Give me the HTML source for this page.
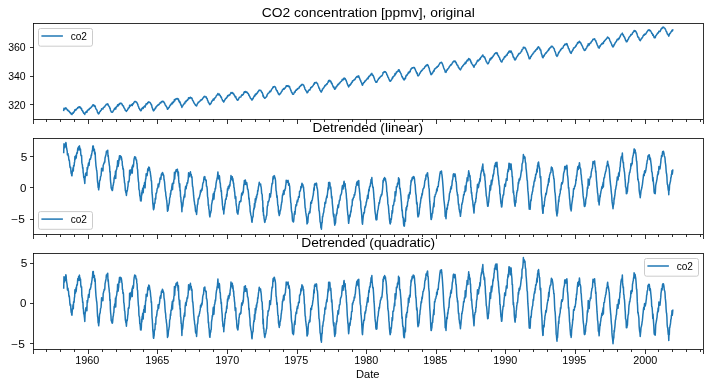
<!DOCTYPE html>
<html><head><meta charset="utf-8"><style>
html,body{margin:0;padding:0;background:#fff;}
svg{display:block;font-family:"Liberation Sans",sans-serif;will-change:transform;}
</style></head><body>
<svg width="713" height="387" viewBox="0 0 713 387">
<rect width="713" height="387" fill="#fff"/>
<defs><clipPath id="c0"><rect x="33.5" y="23.5" width="670.0" height="96.0"/></clipPath><clipPath id="c1"><rect x="33.5" y="138.5" width="670.0" height="96.0"/></clipPath><clipPath id="c2"><rect x="33.5" y="253.5" width="670.0" height="96.0"/></clipPath></defs><polyline clip-path="url(#c0)" fill="none" stroke="#1f77b4" stroke-width="1.5" stroke-linejoin="round" stroke-linecap="square" points="63.71,110.34 63.98,108.32 64.25,108.80 64.51,109.20 64.78,108.61 65.05,108.30 65.31,108.85 65.58,108.25 65.85,107.80 66.11,107.99 66.38,108.65 66.65,109.05 66.91,109.28 67.18,109.58 67.45,110.37 67.71,110.05 67.98,110.05 68.25,110.49 68.51,110.46 68.78,111.14 69.05,111.42 69.31,111.29 69.58,111.81 69.85,112.53 70.12,112.87 70.38,112.95 70.65,112.75 70.92,113.59 71.18,114.05 71.45,113.89 71.72,114.47 71.98,114.48 72.25,113.70 72.52,113.28 72.78,113.03 73.05,112.51 73.32,113.20 73.58,111.95 73.85,111.95 74.12,111.97 74.38,111.17 74.65,110.97 74.92,109.71 75.18,109.94 75.45,110.22 75.72,109.97 75.98,109.26 76.25,109.85 76.52,109.09 76.78,108.63 77.05,108.66 77.32,108.62 77.58,107.89 77.85,107.41 78.12,107.40 78.39,107.42 78.65,106.99 78.92,107.69 79.19,106.85 79.45,106.68 79.72,107.37 79.99,107.09 80.25,107.54 80.52,107.30 80.79,108.35 81.05,108.67 81.32,108.57 81.59,108.55 81.85,110.14 82.12,110.40 82.39,110.57 82.65,111.26 82.92,111.13 83.19,112.26 83.45,112.41 83.72,113.21 83.99,112.98 84.25,113.56 84.52,113.90 84.79,114.47 85.05,113.18 85.32,112.83 85.59,112.47 85.86,111.98 86.12,111.85 86.39,111.89 86.66,111.72 86.92,112.35 87.19,110.49 87.46,110.87 87.72,110.54 87.99,110.17 88.26,109.71 88.52,109.30 88.79,109.64 89.06,109.77 89.32,109.15 89.59,108.45 89.86,108.24 90.12,108.19 90.39,108.20 90.66,107.86 90.92,107.77 91.19,107.14 91.46,107.23 91.72,106.73 91.99,106.43 92.26,105.97 92.52,105.80 92.79,104.88 93.06,104.80 93.33,104.77 93.59,105.82 93.86,105.55 94.13,105.81 94.39,105.38 94.66,106.41 94.93,105.90 95.19,106.13 95.46,107.46 95.73,108.20 95.99,108.91 96.26,109.27 96.53,109.71 96.79,109.90 97.06,110.50 97.33,111.64 97.59,112.42 97.86,112.58 98.13,113.53 98.39,113.33 98.66,113.97 98.93,113.46 99.19,113.20 99.46,112.08 99.73,111.70 99.99,111.62 100.26,111.36 100.53,110.71 100.79,110.61 101.06,110.44 101.33,109.67 101.60,108.69 101.86,108.97 102.13,108.99 102.40,109.06 102.66,108.98 102.93,109.08 103.20,107.73 103.46,107.66 103.73,107.36 104.00,107.16 104.26,106.92 104.53,107.06 104.80,106.80 105.06,105.84 105.33,105.65 105.60,105.30 105.86,105.15 106.13,104.78 106.40,104.18 106.66,104.37 106.93,104.29 107.20,103.92 107.46,103.99 107.73,103.75 108.00,105.13 108.26,104.86 108.53,105.57 108.80,106.06 109.07,106.41 109.33,106.93 109.60,107.17 109.87,108.46 110.13,108.22 110.40,109.91 110.67,110.61 110.93,110.94 111.20,111.87 111.47,111.72 111.73,112.11 112.00,111.99 112.27,112.25 112.53,112.11 112.80,111.59 113.07,110.95 113.33,110.89 113.60,110.30 113.87,110.15 114.13,109.08 114.40,109.27 114.67,108.59 114.93,108.70 115.20,108.61 115.47,107.42 115.73,109.02 116.00,107.63 116.27,107.03 116.54,106.97 116.80,106.64 117.07,106.05 117.34,106.12 117.60,104.77 117.87,105.88 118.14,105.96 118.40,105.45 118.67,105.18 118.94,104.21 119.20,104.00 119.47,103.41 119.74,104.24 120.00,103.62 120.27,103.27 120.54,103.39 120.80,103.33 121.07,103.31 121.34,103.41 121.60,103.66 121.87,104.11 122.14,104.21 122.40,105.24 122.67,105.26 122.94,105.91 123.20,105.70 123.47,105.96 123.74,107.40 124.00,107.54 124.27,108.02 124.54,108.82 124.81,108.86 125.07,109.50 125.34,110.42 125.61,110.53 125.87,110.84 126.14,110.88 126.41,111.41 126.67,110.78 126.94,110.19 127.21,110.32 127.47,109.93 127.74,109.35 128.01,109.08 128.27,108.02 128.54,107.92 128.81,108.02 129.07,107.77 129.34,107.27 129.61,105.24 129.87,106.42 130.14,106.22 130.41,105.92 130.67,105.86 130.94,104.98 131.21,105.46 131.47,105.04 131.74,104.93 132.01,104.20 132.28,105.53 132.54,103.84 132.81,103.84 133.08,103.53 133.34,103.97 133.61,103.40 133.88,102.50 134.14,102.02 134.41,101.79 134.68,101.50 134.94,101.53 135.21,101.70 135.48,101.48 135.74,101.59 136.01,102.04 136.28,101.98 136.54,101.98 136.81,102.68 137.08,102.87 137.34,103.83 137.61,103.96 137.88,105.10 138.14,105.85 138.41,106.54 138.68,106.77 138.94,108.24 139.21,108.37 139.48,108.54 139.75,109.61 140.01,109.60 140.28,110.09 140.55,110.66 140.81,110.52 141.08,110.64 141.35,110.09 141.61,108.67 141.88,109.12 142.15,108.08 142.41,108.13 142.68,107.56 142.95,107.43 143.21,108.45 143.48,107.33 143.75,106.72 144.01,106.76 144.28,106.65 144.55,105.97 144.81,105.95 145.08,107.10 145.35,105.74 145.61,104.97 145.88,104.99 146.15,103.75 146.41,103.88 146.68,103.97 146.95,104.09 147.21,103.93 147.48,103.23 147.75,102.49 148.02,102.34 148.28,102.76 148.55,102.12 148.82,101.87 149.08,101.99 149.35,101.93 149.62,102.25 149.88,102.56 150.15,102.71 150.42,103.06 150.68,103.64 150.95,103.86 151.22,104.70 151.48,104.56 151.75,105.73 152.02,107.28 152.28,107.69 152.55,108.47 152.82,109.53 153.08,109.88 153.35,110.70 153.62,110.86 153.88,110.54 154.15,110.27 154.42,109.24 154.68,109.30 154.95,109.20 155.22,108.06 155.49,108.27 155.75,108.09 156.02,106.83 156.29,106.80 156.55,106.64 156.82,106.33 157.09,105.78 157.35,105.47 157.62,105.47 157.89,105.19 158.15,104.40 158.42,104.85 158.69,104.99 158.95,104.34 159.22,104.33 159.49,103.94 159.75,103.57 160.02,102.86 160.29,102.95 160.55,102.53 160.82,102.99 161.09,102.45 161.35,101.81 161.62,101.61 161.89,101.66 162.15,101.79 162.42,101.20 162.69,101.24 162.96,101.74 163.22,101.43 163.49,101.67 163.76,101.74 164.02,102.57 164.29,102.77 164.56,103.13 164.82,103.84 165.09,104.55 165.36,105.05 165.62,105.23 165.89,106.00 166.16,106.18 166.42,106.70 166.69,106.94 166.96,107.50 167.22,108.27 167.49,109.29 167.76,108.95 168.02,109.01 168.29,108.41 168.56,107.87 168.82,107.72 169.09,107.33 169.36,107.11 169.62,106.04 169.89,105.82 170.16,105.67 170.42,104.81 170.69,105.04 170.96,104.13 171.23,103.95 171.49,104.04 171.76,103.24 172.03,102.86 172.29,102.39 172.56,103.68 172.83,102.29 173.09,102.19 173.36,101.91 173.63,102.14 173.89,101.31 174.16,101.16 174.43,99.49 174.69,100.98 174.96,100.05 175.23,99.46 175.49,99.55 175.76,99.16 176.03,98.77 176.29,98.70 176.56,98.97 176.83,98.87 177.09,98.52 177.36,98.40 177.63,98.83 177.89,99.18 178.16,99.81 178.43,98.92 178.70,100.59 178.96,101.32 179.23,101.42 179.50,102.21 179.76,101.35 180.03,102.94 180.30,102.75 180.56,104.23 180.83,104.23 181.10,105.36 181.36,105.30 181.63,106.26 181.90,107.41 182.16,106.17 182.43,106.28 182.70,106.02 182.96,105.52 183.23,104.79 183.50,104.44 183.76,104.06 184.03,103.63 184.30,103.40 184.56,103.09 184.83,103.65 185.10,101.99 185.36,101.69 185.63,101.16 185.90,101.33 186.17,101.61 186.43,100.79 186.70,100.88 186.97,100.34 187.23,100.04 187.50,100.22 187.77,99.88 188.03,99.48 188.30,98.94 188.57,97.67 188.83,98.01 189.10,97.94 189.37,98.47 189.63,98.28 189.90,97.51 190.17,97.74 190.43,97.17 190.70,97.85 190.97,97.68 191.23,97.68 191.50,98.33 191.77,98.06 192.03,98.30 192.30,99.53 192.57,100.27 192.83,100.23 193.10,100.83 193.37,101.39 193.63,102.21 193.90,102.68 194.17,103.24 194.44,103.46 194.70,104.02 194.97,104.12 195.24,104.63 195.50,105.34 195.77,105.46 196.04,105.53 196.30,105.47 196.57,106.00 196.84,105.30 197.10,104.53 197.37,103.67 197.64,103.64 197.90,103.24 198.17,102.39 198.44,102.13 198.70,102.17 198.97,102.11 199.24,101.71 199.50,101.61 199.77,101.21 200.04,101.03 200.30,100.63 200.57,99.99 200.84,100.36 201.10,100.16 201.37,100.00 201.64,99.51 201.91,99.78 202.17,99.48 202.44,98.90 202.71,98.28 202.97,98.01 203.24,97.81 203.51,97.74 203.77,97.13 204.04,96.49 204.31,96.58 204.57,96.53 204.84,96.28 205.11,96.87 205.37,96.88 205.64,96.94 205.91,97.04 206.17,96.89 206.44,98.21 206.71,98.15 206.97,98.34 207.24,98.83 207.51,100.33 207.77,100.59 208.04,101.04 208.31,102.32 208.57,102.11 208.84,103.06 209.11,103.18 209.38,103.96 209.64,104.52 209.91,104.69 210.18,104.16 210.44,103.45 210.71,103.67 210.98,103.21 211.24,103.13 211.51,101.81 211.78,101.41 212.04,101.16 212.31,100.54 212.58,100.63 212.84,100.17 213.11,99.23 213.38,98.93 213.64,99.70 213.91,100.11 214.18,99.36 214.44,98.31 214.71,98.28 214.98,98.00 215.24,97.46 215.51,97.57 215.78,97.02 216.04,96.33 216.31,95.92 216.58,95.51 216.84,95.40 217.11,94.87 217.38,94.82 217.65,94.07 217.91,93.41 218.18,94.20 218.45,94.82 218.71,94.88 218.98,94.23 219.25,94.06 219.51,94.21 219.78,95.03 220.05,95.66 220.31,95.57 220.58,96.63 220.85,96.62 221.11,97.43 221.38,97.14 221.65,98.26 221.91,98.77 222.18,99.25 222.45,100.30 222.71,100.55 222.98,101.26 223.25,101.29 223.51,101.13 223.78,102.13 224.05,101.28 224.31,100.94 224.58,100.41 224.85,99.64 225.12,99.65 225.38,98.76 225.65,98.51 225.92,98.35 226.18,98.45 226.45,97.77 226.72,97.22 226.98,97.64 227.25,96.71 227.52,95.86 227.78,96.24 228.05,95.67 228.32,95.24 228.58,95.19 228.85,95.67 229.12,95.34 229.38,94.99 229.65,94.61 229.92,94.92 230.18,94.00 230.45,93.76 230.72,93.34 230.98,92.44 231.25,92.77 231.52,92.96 231.78,93.13 232.05,92.84 232.32,92.52 232.59,93.36 232.85,92.86 233.12,93.29 233.39,93.88 233.65,93.72 233.92,94.69 234.19,94.74 234.45,95.43 234.72,95.68 234.99,96.59 235.25,97.05 235.52,96.90 235.79,96.52 236.05,97.91 236.32,98.47 236.59,98.62 236.85,99.52 237.12,99.97 237.39,99.89 237.65,100.14 237.92,100.19 238.19,99.61 238.45,99.20 238.72,98.84 238.99,97.87 239.25,97.81 239.52,97.16 239.79,97.20 240.05,97.12 240.32,97.06 240.59,96.71 240.86,96.92 241.12,96.31 241.39,95.59 241.66,94.98 241.92,94.87 242.19,95.28 242.46,94.83 242.72,94.93 242.99,94.31 243.26,94.56 243.52,93.71 243.79,92.75 244.06,92.75 244.32,91.70 244.59,92.36 244.86,92.47 245.12,91.84 245.39,91.43 245.66,92.00 245.92,91.91 246.19,92.36 246.46,92.18 246.72,91.83 246.99,92.19 247.26,92.63 247.52,93.19 247.79,93.14 248.06,93.32 248.33,93.75 248.59,94.31 248.86,95.30 249.13,95.01 249.39,95.84 249.66,96.47 249.93,96.74 250.19,97.91 250.46,98.10 250.73,98.44 250.99,98.69 251.26,98.77 251.53,99.26 251.79,99.95 252.06,100.08 252.33,99.40 252.59,98.86 252.86,98.81 253.13,98.58 253.39,97.53 253.66,96.97 253.93,96.62 254.19,96.75 254.46,95.48 254.73,96.31 254.99,95.53 255.26,94.31 255.53,95.12 255.80,94.28 256.06,94.49 256.33,93.58 256.60,93.93 256.86,93.36 257.13,93.03 257.40,93.04 257.66,92.10 257.93,92.24 258.20,91.74 258.46,91.17 258.73,90.96 259.00,90.42 259.26,90.04 259.53,90.27 259.80,90.35 260.06,90.42 260.33,90.47 260.60,90.22 260.86,90.71 261.13,90.85 261.40,91.40 261.66,92.21 261.93,92.28 262.20,92.45 262.46,93.66 262.73,93.73 263.00,96.16 263.26,95.22 263.53,96.94 263.80,96.76 264.07,97.52 264.33,97.76 264.60,98.24 264.87,98.33 265.13,97.98 265.40,97.59 265.67,97.60 265.93,97.29 266.20,96.90 266.47,96.61 266.73,96.50 267.00,95.56 267.27,94.47 267.53,94.18 267.80,94.11 268.07,93.16 268.33,93.27 268.60,93.10 268.87,92.91 269.13,92.70 269.40,92.23 269.67,91.20 269.93,91.41 270.20,91.55 270.47,91.79 270.73,91.02 271.00,90.95 271.27,90.20 271.54,89.47 271.80,89.02 272.07,88.48 272.34,88.58 272.60,88.45 272.87,87.31 273.14,86.83 273.40,87.31 273.67,86.86 273.94,86.73 274.20,86.45 274.47,86.49 274.74,86.82 275.00,86.80 275.27,87.07 275.54,87.43 275.80,88.52 276.07,89.63 276.34,89.68 276.60,90.37 276.87,91.00 277.14,90.63 277.40,91.46 277.67,92.32 277.94,92.81 278.20,92.75 278.47,94.05 278.74,94.24 279.01,94.48 279.27,94.80 279.54,94.22 279.81,94.35 280.07,93.54 280.34,93.57 280.61,93.24 280.87,92.95 281.14,92.28 281.41,91.99 281.67,91.40 281.94,91.38 282.21,90.45 282.47,89.70 282.74,89.79 283.01,89.27 283.27,89.25 283.54,88.60 283.81,88.88 284.07,89.30 284.34,88.28 284.61,88.30 284.87,88.38 285.14,87.96 285.41,87.85 285.67,87.07 285.94,86.84 286.21,85.83 286.47,86.37 286.74,85.94 287.01,86.16 287.28,85.83 287.54,86.09 287.81,85.69 288.08,85.61 288.34,85.93 288.61,86.62 288.88,86.13 289.14,86.16 289.41,86.55 289.68,86.76 289.94,87.90 290.21,88.92 290.48,89.29 290.74,90.25 291.01,90.42 291.28,91.50 291.54,92.11 291.81,92.35 292.08,92.60 292.34,93.67 292.61,94.19 292.88,94.05 293.14,94.11 293.41,94.30 293.68,94.02 293.94,93.43 294.21,92.40 294.48,92.10 294.75,91.72 295.01,92.29 295.28,91.48 295.55,90.59 295.81,90.42 296.08,89.95 296.35,90.03 296.61,90.11 296.88,89.28 297.15,89.11 297.41,88.74 297.68,89.13 297.95,88.61 298.21,88.54 298.48,87.90 298.75,87.97 299.01,87.83 299.28,87.87 299.55,86.48 299.81,86.47 300.08,86.41 300.35,86.21 300.61,86.00 300.88,85.20 301.15,85.55 301.41,85.32 301.68,84.75 301.95,84.35 302.22,84.60 302.48,84.48 302.75,84.51 303.02,84.64 303.28,85.18 303.55,84.96 303.82,85.92 304.08,86.13 304.35,87.39 304.62,87.52 304.88,88.66 305.15,89.49 305.42,89.53 305.68,90.36 305.95,90.56 306.22,91.04 306.48,91.24 306.75,91.79 307.02,92.84 307.28,92.73 307.55,92.42 307.82,92.39 308.08,91.51 308.35,90.63 308.62,90.37 308.88,90.16 309.15,90.15 309.42,89.72 309.68,89.62 309.95,89.90 310.22,89.02 310.49,88.65 310.75,87.42 311.02,87.36 311.29,87.56 311.55,87.51 311.82,86.82 312.09,86.87 312.35,86.61 312.62,86.19 312.89,85.82 313.15,85.52 313.42,85.13 313.69,84.34 313.95,83.68 314.22,84.24 314.49,82.85 314.75,83.05 315.02,82.57 315.29,82.90 315.55,82.64 315.82,82.53 316.09,82.47 316.35,82.33 316.62,82.43 316.89,83.18 317.15,83.40 317.42,83.46 317.69,84.02 317.96,84.96 318.22,85.68 318.49,86.33 318.76,87.33 319.02,88.19 319.29,88.23 319.56,88.78 319.82,89.70 320.09,90.57 320.36,90.63 320.62,90.94 320.89,91.79 321.16,91.61 321.42,92.06 321.69,91.13 321.96,90.38 322.22,90.42 322.49,89.00 322.76,89.09 323.02,88.64 323.29,88.18 323.56,88.05 323.82,87.72 324.09,87.00 324.36,86.72 324.62,86.66 324.89,85.54 325.16,85.74 325.43,85.28 325.69,85.58 325.96,84.90 326.23,84.38 326.49,84.24 326.76,83.79 327.03,84.12 327.29,83.50 327.56,83.00 327.83,82.37 328.09,81.72 328.36,82.16 328.63,80.46 328.89,80.99 329.16,80.76 329.43,80.46 329.69,80.30 329.96,80.52 330.23,81.64 330.49,81.57 330.76,81.21 331.03,81.84 331.29,82.54 331.56,83.57 331.83,83.16 332.09,83.68 332.36,84.73 332.63,85.26 332.89,85.85 333.16,86.80 333.43,87.19 333.70,87.53 333.96,86.94 334.23,88.22 334.50,88.86 334.76,89.29 335.03,88.98 335.30,88.80 335.56,88.64 335.83,87.53 336.10,86.76 336.36,86.88 336.63,86.29 336.90,86.39 337.16,85.59 337.43,85.13 337.70,84.97 337.96,84.27 338.23,84.86 338.50,84.78 338.76,84.05 339.03,83.82 339.30,83.15 339.56,82.96 339.83,82.99 340.10,82.65 340.36,81.95 340.63,81.63 340.90,81.59 341.17,81.38 341.43,81.25 341.70,80.87 341.97,80.14 342.23,79.55 342.50,79.23 342.77,79.70 343.03,79.98 343.30,79.60 343.57,79.07 343.83,78.31 344.10,78.07 344.37,78.62 344.63,79.08 344.90,78.54 345.17,78.50 345.43,79.63 345.70,79.55 345.97,80.26 346.23,80.54 346.50,81.62 346.77,81.95 347.03,82.95 347.30,83.89 347.57,84.43 347.83,85.14 348.10,85.29 348.37,86.32 348.64,86.95 348.90,86.54 349.17,85.92 349.44,85.29 349.70,84.90 349.97,85.29 350.24,84.86 350.50,84.42 350.77,83.84 351.04,84.06 351.30,83.29 351.57,82.60 351.84,82.60 352.10,82.51 352.37,81.05 352.64,81.25 352.90,80.79 353.17,80.76 353.44,80.46 353.70,80.30 353.97,80.31 354.24,79.63 354.50,79.78 354.77,79.72 355.04,79.06 355.30,78.99 355.57,78.33 355.84,77.66 356.10,77.48 356.37,77.24 356.64,76.75 356.91,76.48 357.17,76.98 357.44,77.03 357.71,76.16 357.97,76.13 358.24,76.99 358.51,77.10 358.77,75.87 359.04,77.48 359.31,77.58 359.57,78.31 359.84,78.74 360.11,79.88 360.37,80.17 360.64,80.34 360.91,81.75 361.17,81.97 361.44,82.56 361.71,83.28 361.97,84.15 362.24,84.97 362.51,85.22 362.77,84.50 363.04,83.83 363.31,83.24 363.57,82.83 363.84,82.42 364.11,82.44 364.38,82.41 364.64,81.67 364.91,81.07 365.18,80.78 365.44,80.98 365.71,80.50 365.98,80.42 366.24,79.67 366.51,79.67 366.78,79.25 367.04,78.81 367.31,78.58 367.58,77.96 367.84,78.36 368.11,78.63 368.38,77.55 368.64,76.90 368.91,76.41 369.18,76.75 369.44,75.94 369.71,75.67 369.98,75.76 370.24,75.42 370.51,74.80 370.78,74.78 371.04,73.92 371.31,74.69 371.58,73.81 371.85,73.39 372.11,74.43 372.38,74.84 372.65,75.33 372.91,75.51 373.18,75.36 373.45,76.12 373.71,76.76 373.98,77.76 374.25,78.13 374.51,78.96 374.78,80.03 375.05,80.63 375.31,81.03 375.58,81.28 375.85,82.17 376.11,82.33 376.38,82.03 376.65,82.29 376.91,82.16 377.18,81.09 377.45,80.59 377.71,80.02 377.98,79.81 378.25,79.54 378.51,78.89 378.78,78.70 379.05,78.05 379.31,78.23 379.58,77.93 379.85,77.33 380.12,77.19 380.38,76.61 380.65,76.51 380.92,76.46 381.18,76.00 381.45,75.90 381.72,75.99 381.98,75.69 382.25,75.18 382.52,74.60 382.78,73.94 383.05,72.51 383.32,72.84 383.58,72.19 383.85,71.96 384.12,72.21 384.38,72.11 384.65,71.60 384.92,71.89 385.18,72.05 385.45,71.76 385.72,72.27 385.98,72.38 386.25,72.81 386.52,73.32 386.78,74.49 387.05,74.64 387.32,75.41 387.59,75.77 387.85,77.07 388.12,77.27 388.39,77.48 388.65,78.19 388.92,79.08 389.19,79.40 389.45,80.36 389.72,80.75 389.99,81.26 390.25,81.34 390.52,80.94 390.79,80.92 391.05,79.97 391.32,80.14 391.59,79.61 391.85,78.91 392.12,78.01 392.39,78.56 392.65,78.15 392.92,76.81 393.19,76.76 393.45,76.72 393.72,76.44 393.99,75.92 394.25,75.59 394.52,75.09 394.79,75.54 395.06,73.38 395.32,74.29 395.59,74.23 395.86,73.69 396.12,73.38 396.39,72.04 396.66,71.99 396.92,72.06 397.19,71.88 397.46,71.18 397.72,71.37 397.99,70.87 398.26,71.09 398.52,69.74 398.79,70.71 399.06,70.92 399.32,69.89 399.59,71.89 399.86,72.02 400.12,71.88 400.39,72.47 400.66,73.05 400.92,73.49 401.19,74.34 401.46,74.91 401.72,75.89 401.99,76.78 402.26,76.49 402.52,77.49 402.79,78.09 403.06,77.99 403.33,78.45 403.59,79.46 403.86,79.81 404.13,79.89 404.39,79.87 404.66,78.95 404.93,78.43 405.19,77.92 405.46,78.62 405.73,76.69 405.99,75.86 406.26,75.38 406.53,75.92 406.79,74.98 407.06,75.08 407.33,74.94 407.59,73.97 407.86,73.86 408.13,73.54 408.39,72.27 408.66,72.99 408.93,72.93 409.19,72.34 409.46,71.66 409.73,71.46 409.99,71.84 410.26,71.46 410.53,69.82 410.80,69.69 411.06,68.64 411.33,68.90 411.60,68.35 411.86,68.50 412.13,67.84 412.40,67.76 412.66,68.03 412.93,67.76 413.20,67.43 413.46,67.81 413.73,67.43 414.00,67.39 414.26,67.56 414.53,67.86 414.80,68.70 415.06,68.82 415.33,69.47 415.60,70.56 415.86,71.03 416.13,71.24 416.40,72.22 416.66,73.14 416.93,72.71 417.20,73.14 417.46,74.64 417.73,75.54 418.00,75.92 418.27,75.42 418.53,75.64 418.80,75.14 419.07,75.12 419.33,74.35 419.60,73.53 419.87,73.47 420.13,72.68 420.40,72.51 420.67,71.88 420.93,71.39 421.20,70.97 421.47,71.14 421.73,70.58 422.00,70.04 422.27,70.30 422.53,69.75 422.80,69.31 423.07,68.84 423.33,68.83 423.60,68.67 423.87,68.32 424.13,68.29 424.40,67.84 424.67,67.17 424.93,66.70 425.20,66.66 425.47,66.13 425.73,66.38 426.00,65.34 426.27,65.25 426.54,65.49 426.80,65.20 427.07,64.90 427.34,64.69 427.60,64.58 427.87,65.55 428.14,65.48 428.40,66.25 428.67,67.30 428.94,67.78 429.20,68.05 429.47,69.69 429.74,70.71 430.00,71.35 430.27,72.15 430.54,72.98 430.80,74.02 431.07,74.67 431.34,74.62 431.60,74.25 431.87,74.06 432.14,73.20 432.40,73.05 432.67,73.00 432.94,72.13 433.20,71.60 433.47,71.31 433.74,70.56 434.01,71.39 434.27,70.11 434.54,68.97 434.81,69.07 435.07,68.85 435.34,68.37 435.61,68.36 435.87,68.19 436.14,67.82 436.41,67.75 436.67,66.99 436.94,67.42 437.21,67.28 437.47,66.54 437.74,66.27 438.01,66.34 438.27,66.25 438.54,65.43 438.81,64.94 439.07,64.74 439.34,64.24 439.61,63.68 439.87,63.22 440.14,62.87 440.41,62.55 440.67,62.68 440.94,62.85 441.21,62.78 441.48,62.27 441.74,62.76 442.01,63.14 442.28,63.64 442.54,64.25 442.81,64.97 443.08,65.69 443.34,66.52 443.61,67.51 443.88,68.38 444.14,68.79 444.41,69.31 444.68,69.87 444.94,70.49 445.21,72.05 445.48,71.89 445.74,72.01 446.01,72.42 446.28,71.38 446.54,70.79 446.81,69.92 447.08,70.20 447.34,70.02 447.61,69.00 447.88,69.18 448.14,68.60 448.41,68.30 448.68,67.94 448.95,67.85 449.21,67.04 449.48,66.27 449.75,66.04 450.01,65.79 450.28,65.79 450.55,65.02 450.81,64.87 451.08,64.46 451.35,64.94 451.61,64.22 451.88,64.12 452.15,63.30 452.41,62.78 452.68,62.75 452.95,62.17 453.21,61.49 453.48,61.29 453.75,61.18 454.01,61.53 454.28,61.16 454.55,61.69 454.81,61.42 455.08,61.06 455.35,61.41 455.61,61.83 455.88,62.64 456.15,62.61 456.41,63.20 456.68,64.24 456.95,64.83 457.22,64.96 457.48,65.55 457.75,65.32 458.02,66.13 458.28,67.09 458.55,67.55 458.82,67.36 459.08,68.43 459.35,68.54 459.62,69.01 459.88,69.04 460.15,69.39 460.42,69.89 460.68,69.33 460.95,68.93 461.22,68.20 461.48,67.96 461.75,66.94 462.02,66.99 462.28,66.53 462.55,66.43 462.82,65.88 463.08,65.61 463.35,65.12 463.62,64.53 463.88,64.57 464.15,64.54 464.42,63.75 464.69,63.78 464.95,63.74 465.22,62.37 465.49,62.64 465.75,63.42 466.02,62.75 466.29,61.89 466.55,61.29 466.82,61.23 467.09,60.25 467.35,60.45 467.62,60.17 467.89,60.84 468.15,59.55 468.42,59.20 468.69,58.46 468.95,59.15 469.22,58.85 469.49,59.46 469.75,59.69 470.02,59.36 470.29,60.49 470.55,60.35 470.82,61.92 471.09,61.86 471.35,63.16 471.62,62.87 471.89,63.58 472.16,64.09 472.42,64.50 472.69,64.67 472.96,65.45 473.22,65.86 473.49,66.16 473.76,66.91 474.02,67.26 474.29,66.16 474.56,65.27 474.82,65.16 475.09,64.71 475.36,64.69 475.62,64.53 475.89,63.67 476.16,63.68 476.42,62.66 476.69,62.20 476.96,62.09 477.22,61.18 477.49,60.29 477.76,61.05 478.02,60.59 478.29,60.95 478.56,60.75 478.82,60.23 479.09,59.56 479.36,59.78 479.62,59.31 479.89,58.64 480.16,59.21 480.43,58.57 480.69,57.58 480.96,57.32 481.23,57.00 481.49,56.60 481.76,56.79 482.03,56.05 482.29,55.67 482.56,55.48 482.83,54.96 483.09,55.96 483.36,56.25 483.63,56.45 483.89,56.80 484.16,57.44 484.43,56.93 484.69,57.15 484.96,58.24 485.23,58.49 485.49,59.64 485.76,60.11 486.03,60.87 486.29,61.71 486.56,61.79 486.83,62.17 487.09,62.79 487.36,63.38 487.63,63.85 487.90,63.80 488.16,63.68 488.43,62.91 488.70,62.77 488.96,61.91 489.23,61.22 489.50,60.46 489.76,59.96 490.03,58.85 490.30,59.69 490.56,59.77 490.83,58.95 491.10,58.00 491.36,57.47 491.63,58.45 491.90,58.00 492.16,57.56 492.43,57.41 492.70,56.77 492.96,56.05 493.23,56.25 493.50,55.67 493.76,55.64 494.03,54.72 494.30,54.61 494.56,53.74 494.83,53.93 495.10,53.54 495.37,53.05 495.63,53.08 495.90,52.80 496.17,53.26 496.43,53.69 496.70,53.09 496.97,52.60 497.23,53.47 497.50,53.83 497.77,54.76 498.03,55.38 498.30,55.47 498.57,56.21 498.83,56.58 499.10,57.32 499.37,57.50 499.63,57.88 499.90,59.36 500.17,59.31 500.43,60.09 500.70,60.76 500.97,61.38 501.23,61.41 501.50,62.09 501.77,62.03 502.03,61.57 502.30,60.77 502.57,59.99 502.83,59.72 503.10,59.16 503.37,59.06 503.64,59.09 503.90,58.21 504.17,57.67 504.44,57.23 504.70,56.52 504.97,56.55 505.24,56.39 505.50,56.85 505.77,56.00 506.04,55.67 506.30,55.03 506.57,55.06 506.84,55.14 507.10,55.27 507.37,53.73 507.64,53.46 507.90,53.01 508.17,52.63 508.44,53.03 508.70,52.04 508.97,51.16 509.24,51.44 509.50,51.13 509.77,51.30 510.04,51.32 510.30,52.38 510.57,52.05 510.84,51.07 511.11,51.04 511.37,51.87 511.64,52.33 511.91,52.76 512.17,53.83 512.44,53.73 512.71,55.06 512.97,55.86 513.24,57.22 513.51,56.80 513.77,57.54 514.04,57.69 514.31,58.99 514.57,59.38 514.84,59.87 515.11,60.04 515.37,59.45 515.64,58.66 515.91,59.08 516.17,57.86 516.44,57.64 516.71,56.92 516.97,56.62 517.24,56.18 517.51,56.21 517.77,55.70 518.04,55.08 518.31,54.20 518.58,54.47 518.84,53.94 519.11,53.35 519.38,53.69 519.64,53.22 519.91,53.38 520.18,52.89 520.44,52.76 520.71,52.33 520.98,51.86 521.24,51.43 521.51,50.94 521.78,51.12 522.04,49.58 522.31,49.35 522.58,49.22 522.84,48.86 523.11,48.24 523.38,47.18 523.64,48.00 523.91,47.88 524.18,47.45 524.44,47.72 524.71,47.54 524.98,47.60 525.24,48.41 525.51,48.79 525.78,48.77 526.04,49.94 526.31,50.32 526.58,50.99 526.85,51.77 527.11,52.48 527.38,52.58 527.65,53.83 527.91,54.68 528.18,55.23 528.45,55.92 528.71,56.91 528.98,57.92 529.25,58.73 529.51,58.48 529.78,58.50 530.05,58.67 530.31,58.10 530.58,56.84 530.85,56.39 531.11,56.58 531.38,56.04 531.65,55.17 531.91,55.07 532.18,54.64 532.45,54.32 532.71,54.21 532.98,53.50 533.25,52.95 533.51,53.14 533.78,52.56 534.05,51.90 534.32,51.81 534.58,51.36 534.85,51.58 535.12,50.71 535.38,50.95 535.65,49.98 535.92,50.10 536.18,49.89 536.45,49.56 536.72,48.99 536.98,48.57 537.25,49.24 537.52,47.69 537.78,47.79 538.05,47.05 538.32,47.68 538.58,46.77 538.85,47.39 539.12,47.70 539.38,48.11 539.65,48.01 539.92,49.17 540.18,50.09 540.45,50.10 540.72,49.77 540.98,51.14 541.25,53.26 541.52,53.95 541.79,54.45 542.05,55.37 542.32,56.74 542.59,57.19 542.85,57.81 543.12,57.73 543.39,56.20 543.65,55.88 543.92,56.13 544.19,55.89 544.45,54.92 544.72,54.68 544.99,53.94 545.25,53.81 545.52,53.35 545.79,52.86 546.05,53.16 546.32,52.93 546.59,52.48 546.85,52.02 547.12,51.57 547.39,51.23 547.65,50.97 547.92,50.54 548.19,50.65 548.45,49.78 548.72,49.14 548.99,49.89 549.25,49.10 549.52,48.40 549.79,48.09 550.06,47.84 550.32,47.59 550.59,47.53 550.86,47.46 551.12,46.68 551.39,46.17 551.66,46.68 551.92,46.45 552.19,46.22 552.46,46.48 552.72,46.74 552.99,46.98 553.26,47.82 553.52,47.87 553.79,48.50 554.06,48.43 554.32,49.27 554.59,50.48 554.86,51.29 555.12,51.53 555.39,52.18 555.66,53.30 555.92,53.95 556.19,55.36 556.46,55.48 556.72,56.06 556.99,56.43 557.26,55.37 557.53,55.74 557.79,54.92 558.06,54.12 558.33,53.51 558.59,52.60 558.86,52.95 559.13,51.72 559.39,51.77 559.66,51.28 559.93,51.02 560.19,50.79 560.46,49.87 560.73,50.05 560.99,49.78 561.26,48.88 561.53,48.50 561.79,48.24 562.06,48.52 562.33,48.38 562.59,48.13 562.86,47.90 563.13,47.24 563.39,46.50 563.66,45.82 563.93,45.68 564.19,45.37 564.46,45.22 564.73,44.21 565.00,44.73 565.26,44.14 565.53,44.42 565.80,44.31 566.06,44.50 566.33,43.85 566.60,44.16 566.86,43.62 567.13,44.13 567.40,45.75 567.66,45.93 567.93,46.43 568.20,47.28 568.46,48.58 568.73,48.36 569.00,49.05 569.26,49.79 569.53,50.75 569.80,51.06 570.06,51.95 570.33,52.45 570.60,53.01 570.86,52.76 571.13,53.35 571.40,52.87 571.66,51.89 571.93,51.48 572.20,51.05 572.46,50.65 572.73,49.80 573.00,49.90 573.27,48.97 573.53,47.99 573.80,47.93 574.07,48.00 574.33,47.87 574.60,47.22 574.87,47.27 575.13,47.21 575.40,46.74 575.67,46.48 575.93,45.55 576.20,45.77 576.47,44.66 576.73,44.74 577.00,44.12 577.27,43.40 577.53,42.97 577.80,42.41 578.07,42.59 578.33,42.98 578.60,42.09 578.87,42.29 579.13,41.93 579.40,41.31 579.67,41.58 579.93,42.46 580.20,42.33 580.47,42.44 580.74,42.69 581.00,43.70 581.27,43.83 581.54,44.72 581.80,45.11 582.07,45.79 582.34,46.03 582.60,46.61 582.87,47.51 583.14,48.23 583.40,48.67 583.67,48.91 583.94,49.48 584.20,50.29 584.47,50.51 584.74,50.31 585.00,50.35 585.27,49.89 585.54,49.74 585.80,48.64 586.07,48.57 586.34,48.13 586.60,47.92 586.87,47.31 587.14,46.55 587.40,45.79 587.67,45.58 587.94,45.88 588.21,43.76 588.47,44.32 588.74,44.52 589.01,44.25 589.27,44.99 589.54,43.70 589.81,43.59 590.07,43.38 590.34,42.91 590.61,42.99 590.87,42.94 591.14,42.15 591.41,41.63 591.67,41.43 591.94,40.95 592.21,40.89 592.47,40.75 592.74,39.78 593.01,39.16 593.27,39.13 593.54,39.10 593.81,39.25 594.07,39.14 594.34,39.46 594.61,38.78 594.87,39.51 595.14,40.00 595.41,40.13 595.67,41.19 595.94,40.89 596.21,41.95 596.48,42.86 596.74,43.33 597.01,44.26 597.28,44.72 597.54,45.60 597.81,45.79 598.08,46.41 598.34,47.46 598.61,47.34 598.88,47.61 599.14,48.13 599.41,47.36 599.68,46.80 599.94,45.88 600.21,46.15 600.48,45.42 600.74,45.22 601.01,44.66 601.28,44.49 601.54,44.14 601.81,43.64 602.08,43.80 602.34,43.91 602.61,43.08 602.88,42.92 603.14,42.44 603.41,43.47 603.68,41.96 603.95,41.32 604.21,41.33 604.48,41.20 604.75,40.63 605.01,40.30 605.28,40.12 605.55,39.71 605.81,39.59 606.08,39.27 606.35,38.80 606.61,38.25 606.88,38.31 607.15,37.90 607.41,37.36 607.68,37.06 607.95,37.71 608.21,37.64 608.48,37.89 608.75,38.15 609.01,38.41 609.28,38.60 609.55,39.49 609.81,40.24 610.08,41.00 610.35,41.52 610.61,42.04 610.88,42.41 611.15,43.23 611.42,43.78 611.68,44.10 611.95,45.32 612.22,45.86 612.48,46.16 612.75,46.53 613.02,47.06 613.28,46.39 613.55,46.03 613.82,45.84 614.08,44.50 614.35,44.73 614.62,44.07 614.88,43.74 615.15,43.06 615.42,42.37 615.68,42.30 615.95,41.80 616.22,41.38 616.48,41.26 616.75,40.27 617.02,40.12 617.28,39.29 617.55,39.58 617.82,39.63 618.08,39.82 618.35,39.00 618.62,38.19 618.88,38.92 619.15,38.80 619.42,37.80 619.69,37.65 619.95,36.71 620.22,36.62 620.49,35.47 620.75,35.10 621.02,34.49 621.29,34.22 621.55,33.99 621.82,34.08 622.09,33.86 622.35,33.14 622.62,34.44 622.89,34.92 623.15,35.28 623.42,35.07 623.69,36.37 623.95,36.33 624.22,36.99 624.49,37.15 624.75,37.79 625.02,38.71 625.29,39.17 625.55,40.40 625.82,40.33 626.09,40.61 626.35,41.79 626.62,41.40 626.89,41.67 627.16,41.22 627.42,41.16 627.69,40.13 627.96,39.44 628.22,39.10 628.49,38.96 628.76,38.02 629.02,37.26 629.29,37.04 629.56,36.51 629.82,36.58 630.09,36.12 630.36,35.75 630.62,35.53 630.89,34.43 631.16,34.64 631.42,34.78 631.69,34.16 631.96,34.35 632.22,34.21 632.49,32.90 632.76,32.74 633.02,32.29 633.29,32.16 633.56,31.57 633.82,31.43 634.09,30.60 634.36,30.61 634.63,30.83 634.89,31.38 635.16,30.69 635.43,31.10 635.69,31.21 635.96,31.67 636.23,32.26 636.49,33.07 636.76,33.00 637.03,33.93 637.29,35.18 637.56,35.79 637.83,37.04 638.09,36.87 638.36,37.25 638.63,37.45 638.89,37.81 639.16,39.22 639.43,39.67 639.69,40.02 639.96,40.20 640.23,40.80 640.49,40.23 640.76,39.77 641.03,39.02 641.29,38.90 641.56,38.62 641.83,38.33 642.09,37.90 642.36,37.59 642.63,37.07 642.90,36.43 643.16,36.00 643.43,35.36 643.70,35.00 643.96,34.88 644.23,35.24 644.50,34.20 644.76,34.10 645.03,34.53 645.30,34.39 645.56,34.10 645.83,33.85 646.10,33.32 646.36,33.02 646.63,32.21 646.90,32.17 647.16,31.52 647.43,31.26 647.70,31.15 647.96,30.29 648.23,30.26 648.50,30.03 648.76,30.27 649.03,29.86 649.30,29.85 649.56,30.19 649.83,30.84 650.10,30.41 650.37,30.46 650.63,30.91 650.90,31.35 651.17,31.81 651.43,32.22 651.70,33.35 651.97,33.30 652.23,33.60 652.50,34.31 652.77,35.25 653.03,34.43 653.30,35.14 653.57,35.88 653.83,36.44 654.10,37.57 654.37,37.81 654.63,37.53 654.90,37.04 655.17,37.80 655.43,37.19 655.70,35.86 655.97,35.54 656.23,35.22 656.50,34.93 656.77,34.54 657.03,34.25 657.30,33.61 657.57,33.16 657.84,33.20 658.10,32.42 658.37,32.92 658.64,32.23 658.90,31.16 659.17,31.69 659.44,31.32 659.70,31.54 659.97,31.55 660.24,31.04 660.50,30.42 660.77,30.00 661.04,29.14 661.30,28.87 661.57,28.29 661.84,28.52 662.10,28.45 662.37,27.70 662.64,27.27 662.90,27.66 663.17,27.65 663.44,27.09 663.70,27.24 663.97,27.48 664.24,27.96 664.50,28.11 664.77,28.14 665.04,28.48 665.30,29.33 665.57,29.63 665.84,30.11 666.11,31.06 666.37,31.60 666.64,31.76 666.91,32.38 667.17,33.63 667.44,34.06 667.71,34.07 667.97,34.62 668.24,35.19 668.51,34.91 668.77,36.17 669.04,34.73 669.31,35.05 669.57,33.75 669.84,33.62 670.11,33.21 670.37,33.02 670.64,32.55 670.91,31.95 671.17,31.86 671.44,31.16 671.71,31.16 671.97,30.28 672.24,31.03 672.51,30.68 672.77,30.03"/><polyline clip-path="url(#c1)" fill="none" stroke="#1f77b4" stroke-width="1.5" stroke-linejoin="round" stroke-linecap="square" points="63.71,152.41 63.98,143.65 64.25,145.91 64.51,147.87 64.78,145.41 65.05,144.21 65.31,146.79 65.58,144.33 65.85,142.50 66.11,143.51 66.38,146.56 66.65,148.49 66.91,149.66 67.18,151.18 67.45,154.84 67.71,153.59 67.98,153.71 68.25,155.83 68.51,155.89 68.78,159.03 69.05,160.43 69.31,160.03 69.58,162.48 69.85,165.86 70.12,167.51 70.38,168.03 70.65,167.30 70.92,171.19 71.18,173.37 71.45,172.83 71.72,175.58 71.98,175.76 72.25,172.48 72.52,170.79 72.78,169.83 73.05,167.70 73.32,170.94 73.58,165.57 73.85,165.71 74.12,165.97 74.38,162.60 74.65,161.91 74.92,156.46 75.18,157.67 75.45,159.05 75.72,158.12 75.98,155.15 76.25,157.91 76.52,154.72 76.78,152.85 77.05,153.13 77.32,153.14 77.58,150.05 77.85,148.11 78.12,148.23 78.39,148.48 78.65,146.72 78.92,150.00 79.19,146.46 79.45,145.85 79.72,149.05 79.99,148.00 80.25,150.16 80.52,149.27 80.79,154.06 81.05,155.64 81.32,155.36 81.59,155.43 81.85,162.61 82.12,163.93 82.39,164.84 82.65,168.07 82.92,167.64 83.19,172.80 83.45,173.65 83.72,177.32 83.99,176.48 84.25,179.23 84.52,180.86 84.79,183.54 85.05,178.01 85.32,176.62 85.59,175.19 85.86,173.21 86.12,172.78 86.39,173.14 86.66,172.57 86.92,175.49 87.19,167.42 87.46,169.27 87.72,167.99 87.99,166.52 88.26,164.63 88.52,163.00 88.79,164.68 89.06,165.41 89.32,162.80 89.59,159.90 89.86,159.11 90.12,159.08 90.39,159.27 90.66,157.95 90.92,157.68 91.19,155.09 91.46,155.63 91.72,153.59 91.99,152.41 92.26,150.55 92.52,149.98 92.79,146.06 93.06,145.89 93.33,145.90 93.59,150.70 93.86,149.69 94.13,150.97 94.39,149.27 94.66,153.97 94.93,151.89 95.19,153.07 95.46,159.08 95.73,162.54 95.99,165.83 96.26,167.58 96.53,169.71 96.79,170.72 97.06,173.51 97.33,178.72 97.59,182.32 97.86,183.22 98.13,187.55 98.39,186.83 98.66,189.84 98.93,187.77 99.19,186.74 99.46,181.96 99.73,180.46 99.99,180.28 100.26,179.30 100.53,176.58 100.79,176.29 101.06,175.68 101.33,172.46 101.60,168.29 101.86,169.70 102.13,169.95 102.40,170.40 102.66,170.22 102.93,170.85 103.20,165.04 103.46,164.90 103.73,163.73 104.00,163.01 104.26,162.09 104.53,162.87 104.80,161.88 105.06,157.82 105.33,157.14 105.60,155.76 105.86,155.26 106.13,153.78 106.40,151.28 106.66,152.29 106.93,152.11 107.20,150.65 107.46,151.09 107.73,150.20 108.00,156.49 108.26,155.43 108.53,158.76 108.80,161.08 109.07,162.80 109.33,165.24 109.60,166.46 109.87,172.32 110.13,171.46 110.40,179.07 110.67,182.33 110.93,183.94 111.20,188.24 111.47,187.71 111.73,189.63 112.00,189.26 112.27,190.58 112.53,190.09 112.80,187.95 113.07,185.28 113.33,185.18 113.60,182.74 113.87,182.26 114.13,177.70 114.40,178.70 114.67,175.86 114.93,176.50 115.20,176.27 115.47,171.19 115.73,178.41 116.00,172.41 116.27,169.92 116.54,169.84 116.80,168.54 117.07,166.07 117.34,166.56 117.60,160.77 117.87,165.85 118.14,166.35 118.40,164.24 118.67,163.22 118.94,159.10 119.20,158.32 119.47,155.87 119.74,159.70 120.00,157.16 120.27,155.75 120.54,156.47 120.80,156.35 121.07,156.44 121.34,157.04 121.60,158.28 121.87,160.44 122.14,161.07 122.40,165.79 122.67,166.01 122.94,169.06 123.20,168.30 123.47,169.60 123.74,176.16 124.00,176.92 124.27,179.22 124.54,182.88 124.81,183.27 125.07,186.24 125.34,190.45 125.61,191.13 125.87,192.67 126.14,192.98 126.41,195.50 126.67,192.87 126.94,190.45 127.21,191.19 127.47,189.59 127.74,187.19 128.01,186.17 128.27,181.64 128.54,181.39 128.81,181.99 129.07,181.06 129.34,179.00 129.61,170.16 129.87,175.57 130.14,174.82 130.41,173.66 130.67,173.58 130.94,169.85 131.21,172.13 131.47,170.42 131.74,170.10 132.01,167.03 132.28,173.11 132.54,165.80 132.81,165.94 133.08,164.74 133.34,166.85 133.61,164.51 133.88,160.68 134.14,158.72 134.41,157.86 134.68,156.73 134.94,157.05 135.21,157.97 135.48,157.14 135.74,157.81 136.01,159.94 136.28,159.85 136.54,160.00 136.81,163.25 137.08,164.30 137.34,168.70 137.61,169.43 137.88,174.60 138.14,178.12 138.41,181.33 138.68,182.49 138.94,189.17 139.21,189.90 139.48,190.81 139.75,195.71 140.01,195.83 140.28,198.17 140.55,200.85 140.81,200.40 141.08,201.06 141.35,198.80 141.61,192.71 141.88,194.83 142.15,190.43 142.41,190.79 142.68,188.42 142.95,188.03 143.21,192.71 143.48,187.91 143.75,185.38 144.01,185.70 144.28,185.39 144.55,182.53 144.81,182.60 145.08,187.85 145.35,182.00 145.61,178.77 145.88,179.05 146.15,173.71 146.41,174.44 146.68,175.02 146.95,175.71 147.21,175.16 147.48,172.23 147.75,169.13 148.02,168.64 148.28,170.66 148.55,167.99 148.82,167.02 149.08,167.72 149.35,167.61 149.62,169.22 149.88,170.73 150.15,171.56 150.42,173.28 150.68,176.00 150.95,177.16 151.22,180.99 151.48,180.57 151.75,185.89 152.02,192.92 152.28,194.91 152.55,198.49 152.82,203.34 153.08,205.05 153.35,208.86 153.62,209.70 153.88,208.48 154.15,207.46 154.42,203.03 154.68,203.47 154.95,203.22 155.22,198.32 155.49,199.42 155.75,198.80 156.02,193.37 156.29,193.42 156.55,192.88 156.82,191.63 157.09,189.40 157.35,188.18 157.62,188.36 157.89,187.24 158.15,183.92 158.42,186.08 158.69,186.85 158.95,184.15 159.22,184.26 159.49,182.71 159.75,181.25 160.02,178.28 160.29,178.84 160.55,177.15 160.82,179.31 161.09,177.12 161.35,174.44 161.62,173.70 161.89,174.12 162.15,174.83 162.42,172.41 162.69,172.76 162.96,175.10 163.22,173.92 163.49,175.15 163.76,175.58 164.02,179.45 164.29,180.50 164.56,182.23 164.82,185.53 165.09,188.85 165.36,191.23 165.62,192.16 165.89,195.76 166.16,196.72 166.42,199.16 166.69,200.38 166.96,203.03 167.22,206.59 167.49,211.24 167.76,209.92 168.02,210.34 168.29,207.86 168.56,205.65 168.82,205.14 169.09,203.59 169.36,202.76 169.62,198.21 169.89,197.38 170.16,196.91 170.42,193.24 170.69,194.42 170.96,190.59 171.23,189.92 171.49,190.49 171.76,187.13 172.03,185.60 172.29,183.71 172.56,189.57 172.83,183.57 173.09,183.32 173.36,182.25 173.63,183.40 173.89,179.91 174.16,179.41 174.43,172.19 174.69,178.95 174.96,175.00 175.23,172.55 175.49,173.11 175.76,171.52 176.03,169.99 176.29,169.84 176.56,171.19 176.83,170.90 177.09,169.54 177.36,169.17 177.63,171.22 177.89,172.92 178.16,175.88 178.43,172.10 178.70,179.65 178.96,183.06 179.23,183.66 179.50,187.30 179.76,183.66 180.03,190.88 180.30,190.19 180.56,196.88 180.83,197.06 181.10,202.22 181.36,202.10 181.63,206.54 181.90,211.77 182.16,206.47 182.43,207.10 182.70,206.10 182.96,204.08 183.23,200.99 183.50,199.62 183.76,198.12 184.03,196.35 184.30,195.53 184.56,194.32 184.83,196.95 185.10,189.75 185.36,188.61 185.63,186.44 185.90,187.34 186.17,188.75 186.43,185.27 186.70,185.84 186.97,183.61 187.23,182.44 187.50,183.40 187.77,182.08 188.03,180.47 188.30,178.26 188.57,172.79 188.83,174.44 189.10,174.31 189.37,176.81 189.63,176.16 189.90,172.91 190.17,174.06 190.43,171.74 190.70,174.87 190.97,174.31 191.23,174.46 191.50,177.52 191.77,176.49 192.03,177.69 192.30,183.28 192.57,186.74 192.83,186.74 193.10,189.53 193.37,192.17 193.63,195.94 193.90,198.21 194.17,200.86 194.44,202.00 194.70,204.63 194.97,205.20 195.24,207.62 195.50,210.96 195.77,211.62 196.04,212.12 196.30,211.99 196.57,214.51 196.84,211.60 197.10,208.35 197.37,204.72 197.64,204.75 197.90,203.12 198.17,199.55 198.44,198.57 198.70,198.87 198.97,198.80 199.24,197.16 199.50,196.90 199.77,195.31 200.04,194.65 200.30,193.08 200.57,190.41 200.84,192.19 201.10,191.45 201.37,190.92 201.64,188.93 201.91,190.27 202.17,189.12 202.44,186.72 202.71,184.13 202.97,183.13 203.24,182.41 203.51,182.26 203.77,179.69 204.04,177.02 204.31,177.59 204.57,177.54 204.84,176.62 205.11,179.37 205.37,179.59 205.64,180.02 205.91,180.63 206.17,180.11 206.44,186.12 206.71,185.99 206.97,186.99 207.24,189.32 207.51,196.14 207.77,197.43 208.04,199.61 208.31,205.42 208.57,204.64 208.84,209.04 209.11,209.73 209.38,213.35 209.64,215.96 209.91,216.86 210.18,214.69 210.44,211.72 210.71,212.85 210.98,210.99 211.24,210.82 211.51,205.13 211.78,203.53 212.04,202.57 212.31,199.99 212.58,200.55 212.84,198.70 213.11,194.69 213.38,193.56 213.64,197.09 213.91,199.10 214.18,195.92 214.44,191.44 214.71,191.50 214.98,190.40 215.24,188.17 215.51,188.83 215.78,186.56 216.04,183.67 216.31,182.01 216.58,180.37 216.84,180.05 217.11,177.89 217.38,177.82 217.65,174.67 217.91,171.93 218.18,175.57 218.45,178.48 218.71,178.90 218.98,176.20 219.25,175.59 219.51,176.44 219.78,180.20 220.05,183.17 220.31,182.91 220.58,187.77 220.85,187.91 221.11,191.66 221.38,190.51 221.65,195.63 221.91,198.07 222.18,200.35 222.45,205.13 222.71,206.40 222.98,209.73 223.25,210.00 223.51,209.48 223.78,214.04 224.05,210.47 224.31,209.13 224.58,206.96 224.85,203.72 225.12,203.89 225.38,200.15 225.65,199.17 225.92,198.64 226.18,199.25 226.45,196.43 226.72,194.13 226.98,196.14 227.25,192.22 227.52,188.64 227.78,190.48 228.05,188.12 228.32,186.36 228.58,186.30 228.85,188.59 229.12,187.31 229.38,185.90 229.65,184.40 229.92,185.95 230.18,182.05 230.45,181.15 230.72,179.42 230.98,175.62 231.25,177.24 231.52,178.26 231.78,179.18 232.05,178.05 232.32,176.79 232.59,180.65 232.85,178.60 233.12,180.67 233.39,183.45 233.65,182.93 233.92,187.37 234.19,187.73 234.45,190.98 234.72,192.24 234.99,196.43 235.25,198.61 235.52,198.10 235.79,196.62 236.05,202.90 236.32,205.53 236.59,206.39 236.85,210.51 237.12,212.66 237.39,212.49 237.65,213.76 237.92,214.12 238.19,211.74 238.45,210.07 238.72,208.63 238.99,204.54 239.25,204.43 239.52,201.73 239.79,202.05 240.05,201.87 240.32,201.78 240.59,200.40 240.86,201.45 241.12,198.96 241.39,195.93 241.66,193.39 241.92,193.07 242.19,195.05 242.46,193.19 242.72,193.83 242.99,191.22 243.26,192.50 243.52,188.91 243.79,184.85 244.06,184.97 244.32,180.51 244.59,183.59 244.86,184.26 245.12,181.61 245.39,179.99 245.66,182.64 245.92,182.44 246.19,184.58 246.46,183.94 246.72,182.56 246.99,184.32 247.26,186.43 247.52,189.07 247.79,188.98 248.06,189.95 248.33,192.05 248.59,194.67 248.86,199.21 249.13,198.07 249.39,201.93 249.66,204.89 249.93,206.23 250.19,211.54 250.46,212.55 250.73,214.22 250.99,215.50 251.26,216.01 251.53,218.33 251.79,221.57 252.06,222.30 252.33,219.45 252.59,217.24 252.86,217.18 253.13,216.33 253.39,211.83 253.66,209.54 253.93,208.13 254.19,208.89 254.46,203.41 254.73,207.28 254.99,203.97 255.26,198.73 255.53,202.50 255.80,198.94 256.06,200.04 256.33,196.17 256.60,197.90 256.86,195.53 257.13,194.24 257.40,194.44 257.66,190.45 257.93,191.21 258.20,189.18 258.46,186.84 258.73,186.04 259.00,183.85 259.26,182.34 259.53,183.49 259.80,184.01 260.06,184.50 260.33,184.86 260.60,183.94 260.86,186.25 261.13,187.04 261.40,189.65 261.66,193.36 261.93,193.87 262.20,194.75 262.46,200.28 262.73,200.74 263.00,211.68 263.26,207.65 263.53,215.41 263.80,214.81 264.07,218.34 264.33,219.54 264.60,221.86 264.87,222.41 265.13,221.03 265.40,219.44 265.67,219.65 265.93,218.46 266.20,216.89 266.47,215.75 266.73,215.46 267.00,211.47 267.27,206.79 267.53,205.66 267.80,205.53 268.07,201.51 268.33,202.16 268.60,201.58 268.87,200.88 269.13,200.12 269.40,198.18 269.67,193.83 269.93,194.92 270.20,195.67 270.47,196.92 270.73,193.68 271.00,193.51 271.27,190.39 271.54,187.29 271.80,185.50 272.07,183.24 272.34,183.84 272.60,183.44 272.87,178.58 273.14,176.61 273.40,178.88 273.67,177.08 273.94,176.64 274.20,175.61 274.47,175.94 274.74,177.55 275.00,177.64 275.27,178.99 275.54,180.73 275.80,185.72 276.07,190.79 276.34,191.16 276.60,194.39 276.87,197.34 277.14,195.86 277.40,199.71 277.67,203.64 277.94,206.00 278.20,205.91 278.47,211.80 278.74,212.80 279.01,214.04 279.27,215.58 279.54,213.21 279.81,213.92 280.07,210.54 280.34,210.83 280.61,209.51 280.87,208.39 281.14,205.61 281.41,204.50 281.67,202.04 281.94,202.11 282.21,198.17 282.47,195.02 282.74,195.57 283.01,193.46 283.27,193.53 283.54,190.79 283.81,192.22 284.07,194.22 284.34,189.88 284.61,190.11 284.87,190.66 285.14,188.96 285.41,188.63 285.67,185.35 285.94,184.47 286.21,180.18 286.47,182.75 286.74,181.00 287.01,182.15 287.28,180.84 287.54,182.17 287.81,180.54 288.08,180.35 288.34,181.93 288.61,185.15 288.88,183.17 289.14,183.44 289.41,185.34 289.68,186.41 289.94,191.64 290.21,196.32 290.48,198.11 290.74,202.49 291.01,203.41 291.28,208.36 291.54,211.23 291.81,212.44 292.08,213.73 292.34,218.60 292.61,221.09 292.88,220.60 293.14,221.06 293.41,222.06 293.68,220.99 293.94,218.54 294.21,214.15 294.48,212.98 294.75,211.47 295.01,214.14 295.28,210.73 295.55,206.97 295.81,206.38 296.08,204.44 296.35,204.94 296.61,205.49 296.88,201.97 297.15,201.40 297.41,199.90 297.68,201.79 297.95,199.67 298.21,199.52 298.48,196.84 298.75,197.32 299.01,196.87 299.28,197.21 299.55,191.23 299.81,191.36 300.08,191.23 300.35,190.51 300.61,189.74 300.88,186.40 301.15,188.10 301.41,187.23 301.68,184.87 301.95,183.27 302.22,184.55 302.48,184.18 302.75,184.47 303.02,185.21 303.28,187.78 303.55,186.95 303.82,191.37 304.08,192.45 304.35,198.18 304.62,198.91 304.88,204.15 305.15,207.98 305.42,208.28 305.68,212.14 305.95,213.19 306.22,215.45 306.48,216.51 306.75,219.11 307.02,223.90 307.28,223.58 307.55,222.40 307.82,222.41 308.08,218.67 308.35,214.96 308.62,213.97 308.88,213.22 309.15,213.32 309.42,211.59 309.68,211.29 309.95,212.72 310.22,208.99 310.49,207.53 310.75,202.26 311.02,202.14 311.29,203.17 311.55,203.14 311.82,200.24 312.09,200.62 312.35,199.63 312.62,197.94 312.89,196.47 313.15,195.30 313.42,193.75 313.69,190.40 313.95,187.66 314.22,190.31 314.49,184.33 314.75,185.36 315.02,183.43 315.29,185.02 315.55,184.04 315.82,183.73 316.09,183.61 316.35,183.16 316.62,183.77 316.89,187.27 317.15,188.37 317.42,188.80 317.69,191.46 317.96,195.78 318.22,199.10 318.49,202.15 318.76,206.76 319.02,210.71 319.29,211.04 319.56,213.65 319.82,217.87 320.09,221.90 320.36,222.31 320.62,223.85 320.89,227.75 321.16,227.14 321.42,229.27 321.69,225.32 321.96,222.19 322.22,222.54 322.49,216.39 322.76,216.96 323.02,215.12 323.29,213.29 323.56,212.85 323.82,211.58 324.09,208.53 324.36,207.48 324.62,207.35 324.89,202.59 325.16,203.61 325.43,201.76 325.69,203.26 325.96,200.39 326.23,198.28 326.49,197.82 326.76,196.00 327.03,197.61 327.29,195.01 327.56,193.00 327.83,190.37 328.09,187.66 328.36,189.74 328.63,182.40 328.89,184.93 329.16,184.04 329.43,182.92 329.69,182.35 329.96,183.47 330.23,188.61 330.49,188.45 330.76,187.03 331.03,189.98 331.29,193.26 331.56,197.95 331.83,196.30 332.09,198.76 332.36,203.59 332.63,206.07 332.89,208.86 333.16,213.19 333.43,215.11 333.70,216.78 333.96,214.31 334.23,220.14 334.50,223.14 334.76,225.20 335.03,223.99 335.30,223.38 335.56,222.80 335.83,218.06 336.10,214.83 336.36,215.53 336.63,213.10 336.90,213.69 337.16,210.32 337.43,208.46 337.70,207.89 337.96,204.97 338.23,207.72 338.50,207.56 338.76,204.50 339.03,203.61 339.30,200.81 339.56,200.13 339.83,200.47 340.10,199.11 340.36,196.19 340.63,194.93 340.90,194.93 341.17,194.17 341.43,193.72 341.70,192.22 341.97,189.14 342.23,186.71 342.50,185.44 342.77,187.70 343.03,189.09 343.30,187.56 343.57,185.38 343.83,182.22 344.10,181.31 344.37,183.89 344.63,186.08 344.90,183.88 345.17,183.85 345.43,189.00 345.70,188.82 345.97,192.12 346.23,193.52 346.50,198.49 346.77,200.09 347.03,204.67 347.30,208.99 347.57,211.56 347.83,214.83 348.10,215.67 348.37,220.40 348.64,223.34 348.90,221.70 349.17,219.10 349.44,216.48 349.70,214.94 349.97,216.83 350.24,215.09 350.50,213.29 350.77,210.91 351.04,212.04 351.30,208.78 351.57,205.91 351.84,206.05 352.10,205.83 352.37,199.55 352.64,200.59 352.90,198.70 353.17,198.76 353.44,197.60 353.70,197.06 353.97,197.27 354.24,194.40 354.50,195.24 354.77,195.12 355.04,192.37 355.30,192.25 355.57,189.49 355.84,186.67 356.10,186.06 356.37,185.14 356.64,183.15 356.91,182.11 357.17,184.50 357.44,184.89 357.71,181.18 357.97,181.21 358.24,185.19 358.51,185.82 358.77,180.55 359.04,187.82 359.31,188.46 359.57,191.82 359.84,193.89 360.11,199.10 360.37,200.56 360.64,201.45 360.91,207.84 361.17,209.02 361.44,211.79 361.71,215.12 361.97,219.14 362.24,222.92 362.51,224.16 362.77,221.15 363.04,218.37 363.31,215.92 363.57,214.28 363.84,212.60 364.11,212.87 364.38,212.88 364.64,209.79 364.91,207.32 365.18,206.17 365.44,207.22 365.71,205.25 365.98,205.10 366.24,201.91 366.51,202.11 366.78,200.40 367.04,198.63 367.31,197.78 367.58,195.20 367.84,197.12 368.11,198.49 368.38,193.87 368.64,191.16 368.91,189.17 369.18,190.83 369.44,187.39 369.71,186.35 369.98,186.92 370.24,185.59 370.51,183.03 370.78,183.07 371.04,179.43 371.31,183.03 371.58,179.29 371.85,177.61 372.11,182.37 372.38,184.33 372.65,186.65 372.91,187.60 373.18,187.13 373.45,190.64 373.71,193.62 373.98,198.21 374.25,200.02 374.51,203.87 374.78,208.74 375.05,211.58 375.31,213.51 375.58,214.76 375.85,218.86 376.11,219.73 376.38,218.57 376.65,219.87 376.91,219.47 377.18,214.88 377.45,212.88 377.71,210.51 377.98,209.74 378.25,208.71 378.51,205.99 378.78,205.30 379.05,202.61 379.31,203.56 379.58,202.39 379.85,199.90 380.12,199.45 380.38,197.07 380.65,196.76 380.92,196.73 381.18,194.86 381.45,194.57 381.72,195.15 381.98,193.98 382.25,191.88 382.52,189.49 382.78,186.73 383.05,180.58 383.32,182.20 383.58,179.46 383.85,178.60 384.12,179.90 384.38,179.63 384.65,177.52 384.92,178.96 385.18,179.82 385.45,178.72 385.72,181.12 385.98,181.77 386.25,183.86 386.52,186.24 386.78,191.60 387.05,192.42 387.32,195.97 387.59,197.75 387.85,203.65 388.12,204.69 388.39,205.81 388.65,209.10 388.92,213.21 389.19,214.79 389.45,219.18 389.72,221.06 389.99,223.47 390.25,223.99 390.52,222.42 390.79,222.46 391.05,218.42 391.32,219.36 391.59,217.16 391.85,214.25 392.12,210.44 392.39,213.03 392.65,211.37 392.92,205.61 393.19,205.56 393.45,205.54 393.72,204.48 393.99,202.34 394.25,201.04 394.52,198.98 394.79,201.15 395.06,191.75 395.32,195.94 395.59,195.86 395.86,193.61 396.12,192.39 396.39,186.65 396.66,186.60 396.92,187.05 397.19,186.42 397.46,183.48 397.72,184.51 397.99,182.45 398.26,183.57 398.52,177.78 398.79,182.24 399.06,183.31 399.32,178.94 399.59,187.94 399.86,188.67 400.12,188.22 400.39,191.00 400.66,193.72 400.92,195.81 401.19,199.76 401.46,202.43 401.72,206.92 401.99,211.02 402.26,209.93 402.52,214.51 402.79,217.32 403.06,217.04 403.33,219.21 403.59,223.86 403.86,225.55 404.13,226.06 404.39,226.14 404.66,222.24 404.93,220.14 405.19,218.03 405.46,221.30 405.73,212.93 405.99,209.40 406.26,207.45 406.53,210.00 406.79,205.99 407.06,206.61 407.33,206.17 407.59,202.03 407.86,201.69 408.13,200.46 408.39,195.01 408.66,198.36 408.93,198.26 409.19,195.80 409.46,192.96 409.73,192.24 409.99,194.10 410.26,192.58 410.53,185.49 410.80,185.06 411.06,180.61 411.33,181.92 411.60,179.63 411.86,180.46 412.13,177.73 412.40,177.50 412.66,178.89 412.93,177.86 413.20,176.54 413.46,178.38 413.73,176.88 414.00,176.87 414.26,177.75 414.53,179.26 414.80,183.15 415.06,183.84 415.33,186.86 415.60,191.85 415.86,194.10 416.13,195.21 416.40,199.70 416.66,203.91 416.93,202.19 417.20,204.25 417.46,211.05 417.73,215.19 418.00,217.01 418.27,214.99 418.53,216.10 418.80,214.06 419.07,214.14 419.33,210.88 419.60,207.46 419.87,207.32 420.13,204.00 420.40,203.41 420.67,200.81 420.93,198.78 421.20,197.11 421.47,197.99 421.73,195.69 422.00,193.49 422.27,194.80 422.53,192.52 422.80,190.73 423.07,188.82 423.33,188.94 423.60,188.40 423.87,187.02 424.13,187.04 424.40,185.21 424.67,182.42 424.93,180.49 425.20,180.48 425.47,178.30 425.73,179.57 426.00,175.15 426.27,174.92 426.54,176.14 426.80,175.03 427.07,173.83 427.34,173.08 427.60,172.76 427.87,177.20 428.14,177.05 428.40,180.65 428.67,185.42 428.94,187.71 429.20,189.10 429.47,196.49 429.74,201.19 430.00,204.17 430.27,207.84 430.54,211.71 430.80,216.47 431.07,219.47 431.34,219.42 431.60,217.95 431.87,217.27 432.14,213.66 432.40,213.15 432.67,213.09 432.94,209.40 433.20,207.21 433.47,206.09 433.74,202.95 434.01,206.80 434.27,201.31 434.54,196.40 434.81,197.03 435.07,196.20 435.34,194.25 435.61,194.37 435.87,193.76 436.14,192.29 436.41,192.17 436.67,188.97 436.94,191.02 437.21,190.59 437.47,187.45 437.74,186.45 438.01,186.89 438.27,186.69 438.54,183.22 438.81,181.22 439.07,180.47 439.34,178.46 439.61,176.12 439.87,174.25 440.14,172.86 440.41,171.61 440.67,172.38 440.94,173.27 441.21,173.14 441.48,171.06 441.74,173.38 442.01,175.20 442.28,177.57 442.54,180.44 442.81,183.79 443.08,187.14 443.34,190.95 443.61,195.53 443.88,199.52 444.14,201.50 444.41,203.95 444.68,206.60 444.94,209.49 445.21,216.55 445.48,216.00 445.74,216.73 446.01,218.68 446.28,214.27 446.54,211.80 446.81,208.12 447.08,209.51 447.34,208.89 447.61,204.55 447.88,205.53 448.14,203.10 448.41,201.96 448.68,200.49 448.95,200.27 449.21,196.88 449.48,193.63 449.75,192.75 450.01,191.82 450.28,191.99 450.55,188.77 450.81,188.25 451.08,186.58 451.35,188.88 451.61,185.87 451.88,185.58 452.15,182.13 452.41,180.00 452.68,180.01 452.95,177.62 453.21,174.77 453.48,174.05 453.75,173.73 454.01,175.44 454.28,173.98 454.55,176.49 454.81,175.43 455.08,173.99 455.35,175.72 455.61,177.73 455.88,181.50 456.15,181.51 456.41,184.28 456.68,189.04 456.95,191.84 457.22,192.56 457.48,195.35 457.75,194.46 458.02,198.21 458.28,202.61 458.55,204.84 458.82,204.16 459.08,209.04 459.35,209.70 459.62,211.94 459.88,212.25 460.15,213.94 460.42,216.31 460.68,213.99 460.95,212.41 461.22,209.32 461.48,208.44 461.75,204.11 462.02,204.48 462.28,202.61 462.55,202.33 462.82,200.06 463.08,199.02 463.35,197.03 463.62,194.58 463.88,194.91 464.15,194.94 464.42,191.62 464.69,191.93 464.95,191.92 465.22,185.99 465.49,187.37 465.75,190.97 466.02,188.16 466.29,184.54 466.55,182.06 466.82,181.94 467.09,177.80 467.35,178.83 467.62,177.76 467.89,180.86 468.15,175.33 468.42,173.94 468.69,170.85 468.95,174.04 469.22,172.90 469.49,175.76 469.75,176.95 470.02,175.64 470.29,180.82 470.55,180.33 470.82,187.43 471.09,187.35 471.35,193.26 471.62,192.16 471.89,195.44 472.16,197.84 472.42,199.85 472.69,200.77 472.96,204.35 473.22,206.36 473.49,207.83 473.76,211.30 474.02,213.03 474.29,208.32 474.56,204.56 474.82,204.20 475.09,202.38 475.36,202.45 475.62,201.93 475.89,198.27 476.16,198.48 476.42,194.13 476.69,192.27 476.96,191.96 477.22,188.10 477.49,184.33 477.76,187.85 478.02,185.98 478.29,187.72 478.56,187.03 478.82,184.88 479.09,182.07 479.36,183.21 479.62,181.30 479.89,178.49 480.16,181.17 480.43,178.53 480.69,174.31 480.96,173.33 481.23,172.05 481.49,170.48 481.76,171.46 482.03,168.34 482.29,166.84 482.56,166.14 482.83,164.04 483.09,168.63 483.36,170.04 483.63,171.12 483.89,172.82 484.16,175.78 484.43,173.71 484.69,174.83 484.96,179.83 485.23,181.10 485.49,186.36 485.76,188.58 486.03,192.11 486.29,195.99 486.56,196.53 486.83,198.34 487.09,201.26 487.36,204.01 487.63,206.26 487.90,206.19 488.16,205.84 488.43,202.62 488.70,202.13 488.96,198.48 489.23,195.62 489.50,192.42 489.76,190.36 490.03,185.62 490.30,189.49 490.56,190.02 490.83,186.58 491.10,182.52 491.36,180.34 491.63,184.83 491.90,183.01 492.16,181.21 492.43,180.74 492.70,178.06 492.96,175.06 493.23,176.09 493.50,173.68 493.76,173.74 494.03,169.83 494.30,169.51 494.56,165.80 494.83,166.82 495.10,165.25 495.37,163.23 495.63,163.56 495.90,162.48 496.17,164.67 496.43,166.73 496.70,164.26 496.97,162.23 497.23,166.27 497.50,168.01 497.77,172.28 498.03,175.18 498.30,175.74 498.57,179.17 498.83,180.97 499.10,184.40 499.37,185.39 499.63,187.22 499.90,193.94 500.17,193.87 500.43,197.50 500.70,200.60 500.97,203.52 501.23,203.82 501.50,206.96 501.77,206.88 502.03,205.02 502.30,201.63 502.57,198.36 502.83,197.33 503.10,195.00 503.37,194.72 503.64,195.03 503.90,191.29 504.17,189.07 504.44,187.29 504.70,184.31 504.97,184.59 505.24,184.07 505.50,186.27 505.77,182.67 506.04,181.35 506.30,178.70 506.57,179.00 506.84,179.52 507.10,180.23 507.37,173.60 507.64,172.59 507.90,170.77 508.17,169.23 508.44,171.18 508.70,166.97 508.97,163.22 509.24,164.63 509.50,163.40 509.77,164.33 510.04,164.59 510.30,169.43 510.57,168.15 510.84,163.96 511.11,163.99 511.37,167.85 511.64,170.02 511.91,172.09 512.17,176.99 512.44,176.68 512.71,182.77 512.97,186.43 513.24,192.62 513.51,190.93 513.77,194.38 514.04,195.20 514.31,201.08 514.57,202.98 514.84,205.33 515.11,206.21 515.37,203.77 515.64,200.47 515.91,202.46 516.17,197.27 516.44,196.42 516.71,193.43 516.97,192.24 517.24,190.46 517.51,190.79 517.77,188.70 518.04,186.12 518.31,182.36 518.58,183.73 518.84,181.54 519.11,179.12 519.38,180.77 519.64,178.85 519.91,179.72 520.18,177.71 520.44,177.30 520.71,175.60 520.98,173.66 521.24,171.92 521.51,169.93 521.78,170.88 522.04,164.22 522.31,163.39 522.58,162.96 522.84,161.55 523.11,158.98 523.38,154.43 523.64,158.23 523.91,157.87 524.18,156.13 524.44,157.49 524.71,156.86 524.98,157.26 525.24,161.01 525.51,162.86 525.78,162.96 526.04,168.28 526.31,170.14 526.58,173.25 526.85,176.86 527.11,180.17 527.38,180.78 527.65,186.45 527.91,190.39 528.18,192.98 528.45,196.16 528.71,200.71 528.98,205.36 529.25,209.12 529.51,208.16 529.78,208.39 530.05,209.33 530.31,206.96 530.58,201.54 530.85,199.74 531.11,200.72 531.38,198.50 531.65,194.82 531.91,194.56 532.18,192.81 532.45,191.57 532.71,191.25 532.98,188.27 533.25,186.00 533.51,187.00 533.78,184.61 534.05,181.84 534.32,181.59 534.58,179.80 534.85,180.91 535.12,177.25 535.38,178.46 535.65,174.33 535.92,175.02 536.18,174.24 536.45,172.96 536.72,170.61 536.98,168.93 537.25,172.04 537.52,165.35 537.78,165.95 538.05,162.83 538.32,165.79 538.58,161.95 538.85,164.83 539.12,166.36 539.38,168.33 539.65,168.08 539.92,173.37 540.18,177.59 540.45,177.78 540.72,176.48 540.98,182.71 541.25,192.26 541.52,195.49 541.79,197.85 542.05,202.09 542.32,208.29 542.59,210.46 542.85,213.37 543.12,213.17 543.39,206.55 543.65,205.29 543.92,206.58 544.19,205.69 544.45,201.56 544.72,200.64 544.99,197.54 545.25,197.13 545.52,195.29 545.79,193.28 546.05,194.76 546.32,193.88 546.59,192.06 546.85,190.20 547.12,188.40 547.39,187.05 547.65,186.05 547.92,184.33 548.19,184.98 548.45,181.28 548.72,178.60 548.99,182.09 549.25,178.77 549.52,175.85 549.79,174.61 550.06,173.69 550.32,172.72 550.59,172.63 550.86,172.51 551.12,169.22 551.39,167.11 551.66,169.52 551.92,168.68 552.19,167.83 552.46,169.15 552.72,170.45 552.99,171.67 553.26,175.54 553.52,175.92 553.79,178.90 554.06,178.74 554.32,182.61 554.59,188.15 554.86,191.87 555.12,193.11 555.39,196.15 555.66,201.24 555.92,204.29 556.19,210.67 556.46,211.37 556.72,214.12 556.99,215.91 557.26,211.38 557.53,213.16 557.79,209.71 558.06,206.36 558.33,203.82 558.59,199.97 558.86,201.68 559.13,196.38 559.39,196.77 559.66,194.78 559.93,193.80 560.19,192.92 560.46,189.01 560.73,189.98 560.99,188.96 561.26,185.15 561.53,183.62 561.79,182.62 562.06,184.02 562.33,183.56 562.59,182.62 562.86,181.79 563.13,179.05 563.39,175.92 563.66,173.07 563.93,172.61 564.19,171.43 564.46,170.91 564.73,166.61 565.00,169.06 565.26,166.62 565.53,168.03 565.80,167.69 566.06,168.69 566.33,166.02 566.60,167.53 566.86,165.32 567.13,167.73 567.40,175.07 567.66,176.02 567.93,178.37 568.20,182.31 568.46,188.21 568.73,187.42 569.00,190.63 569.26,194.06 569.53,198.48 569.80,200.02 570.06,204.11 570.33,206.47 570.60,209.10 570.86,208.17 571.13,210.92 571.40,209.00 571.66,204.80 571.93,203.16 572.20,201.40 572.46,199.80 572.73,196.24 573.00,196.85 573.27,192.87 573.53,188.70 573.80,188.60 574.07,189.08 574.33,188.67 574.60,185.95 574.87,186.35 575.13,186.24 575.40,184.31 575.67,183.33 575.93,179.39 576.20,180.54 576.47,175.79 576.73,176.32 577.00,173.70 577.27,170.70 577.53,168.98 577.80,166.65 578.07,167.60 578.33,169.48 578.60,165.71 578.87,166.78 579.13,165.34 579.40,162.76 579.67,164.13 579.93,168.19 580.20,167.75 580.47,168.40 580.74,169.69 581.00,174.31 581.27,175.05 581.54,179.14 581.80,181.04 582.07,184.20 582.34,185.44 582.60,188.16 582.87,192.30 583.14,195.65 583.40,197.75 583.67,198.97 583.94,201.67 584.20,205.41 584.47,206.54 584.74,205.81 585.00,206.17 585.27,204.30 585.54,203.78 585.80,199.11 586.07,198.94 586.34,197.17 586.60,196.38 586.87,193.86 587.14,190.67 587.40,187.46 587.67,186.69 587.94,188.18 588.21,178.99 588.47,181.63 588.74,182.67 589.01,181.63 589.27,185.09 589.54,179.56 589.81,179.23 590.07,178.45 590.34,176.54 590.61,177.07 590.87,177.01 591.14,173.68 591.41,171.52 591.67,170.82 591.94,168.83 592.21,168.75 592.47,168.28 592.74,164.15 593.01,161.59 593.27,161.62 593.54,161.64 593.81,162.49 594.07,162.17 594.34,163.75 594.61,160.88 594.87,164.29 595.14,166.62 595.41,167.33 595.67,172.22 595.94,171.04 596.21,175.88 596.48,180.06 596.74,182.31 597.01,186.58 597.28,188.77 597.54,192.86 597.81,193.82 598.08,196.75 598.34,201.53 598.61,201.18 598.88,202.52 599.14,205.01 599.41,201.78 599.68,199.47 599.94,195.55 600.21,196.91 600.48,193.84 600.74,193.13 601.01,190.82 601.28,190.23 601.54,188.83 601.81,186.80 602.08,187.66 602.34,188.30 602.61,184.80 602.88,184.24 603.14,182.28 603.41,187.00 603.68,180.51 603.95,177.85 604.21,178.06 604.48,177.65 604.75,175.26 605.01,173.97 605.28,173.32 605.55,171.71 605.81,171.32 606.08,170.06 606.35,168.14 606.61,165.90 606.88,166.31 607.15,164.66 607.41,162.44 607.68,161.29 607.95,164.31 608.21,164.17 608.48,165.42 608.75,166.75 609.01,168.08 609.28,169.09 609.55,173.17 609.81,176.63 610.08,180.17 610.35,182.62 610.61,185.09 610.88,186.88 611.15,190.67 611.42,193.29 611.68,194.86 611.95,200.42 612.22,202.98 612.48,204.44 612.75,206.27 613.02,208.76 613.28,205.98 613.55,204.55 613.82,203.88 614.08,198.11 614.35,199.25 614.62,196.51 614.88,195.22 615.15,192.37 615.42,189.50 615.68,189.35 615.95,187.29 616.22,185.63 616.48,185.25 616.75,181.03 617.02,180.53 617.28,177.04 617.55,178.46 617.82,178.83 618.08,179.83 618.35,176.40 618.62,172.99 618.88,176.37 619.15,175.98 619.42,171.75 619.69,171.25 619.95,167.25 620.22,167.03 620.49,162.08 620.75,160.62 621.02,158.10 621.29,157.04 621.55,156.22 621.82,156.76 622.09,155.94 622.35,152.95 622.62,158.85 622.89,161.12 623.15,162.87 623.42,162.13 623.69,168.02 623.95,168.02 624.22,171.11 624.49,171.97 624.75,174.98 625.02,179.18 625.29,181.37 625.55,186.97 625.82,186.82 626.09,188.26 626.35,193.63 626.62,192.06 626.89,193.44 627.16,191.60 627.42,191.50 627.69,187.09 627.96,184.23 628.22,182.87 628.49,182.40 628.76,178.43 629.02,175.22 629.29,174.44 629.56,172.26 629.82,172.70 630.09,170.86 630.36,169.39 630.62,168.54 630.89,163.85 631.16,164.94 631.42,165.72 631.69,163.15 631.96,164.16 632.22,163.72 632.49,158.09 632.76,157.53 633.02,155.71 633.29,155.27 633.56,152.84 633.82,152.38 634.09,148.88 634.36,149.11 634.63,150.22 634.89,152.80 635.16,149.93 635.43,151.91 635.69,152.55 635.96,154.78 636.23,157.51 636.49,161.29 636.76,161.13 637.03,165.38 637.29,171.11 637.56,173.95 637.83,179.64 638.09,179.03 638.36,180.88 638.63,181.93 638.89,183.68 639.16,190.12 639.43,192.26 639.69,193.96 639.96,194.94 640.23,197.73 640.49,195.38 640.76,193.49 641.03,190.36 641.29,190.00 641.56,188.90 641.83,187.77 642.09,186.04 642.36,184.84 642.63,182.70 642.90,180.03 643.16,178.32 643.43,175.66 643.70,174.21 643.96,173.83 644.23,175.58 644.50,171.16 644.76,170.89 645.03,172.94 645.30,172.51 645.56,171.40 645.83,170.42 646.10,168.25 646.36,167.10 646.63,163.70 646.90,163.67 647.16,160.93 647.43,159.97 647.70,159.64 647.96,156.02 648.23,156.03 648.50,155.20 648.76,156.40 649.03,154.75 649.30,154.89 649.56,156.55 649.83,159.58 650.10,157.83 650.37,158.24 650.63,160.40 650.90,162.48 651.17,164.68 651.43,166.66 651.70,171.80 651.97,171.78 652.23,173.24 652.50,176.53 652.77,180.88 653.03,177.41 653.30,180.72 653.57,184.13 653.83,186.78 654.10,191.93 654.37,193.16 654.63,192.10 654.90,190.10 655.17,193.63 655.43,191.06 655.70,185.38 655.97,184.12 656.23,182.85 656.50,181.73 656.77,180.18 657.03,179.08 657.30,176.37 657.57,174.56 657.84,174.92 658.10,171.61 658.37,173.99 658.64,171.11 658.90,166.54 659.17,169.05 659.44,167.59 659.70,168.72 659.97,168.91 660.24,166.82 660.50,164.27 660.77,162.57 661.04,158.93 661.30,157.89 661.57,155.47 661.84,156.67 662.10,156.50 662.37,153.39 662.64,151.62 662.90,153.53 663.17,153.64 663.44,151.31 663.70,152.13 663.97,153.37 664.24,155.65 664.50,156.48 664.77,156.78 665.04,158.47 665.30,162.36 665.57,163.88 665.84,166.15 666.11,170.52 666.37,173.07 666.64,173.93 666.91,176.84 667.17,182.51 667.44,184.60 667.71,184.80 667.97,187.38 668.24,190.06 668.51,188.99 668.77,194.71 669.04,188.54 669.31,190.09 669.57,184.54 669.84,184.09 670.11,182.47 670.37,181.78 670.64,179.89 670.91,177.36 671.17,177.13 671.44,174.20 671.71,174.39 671.97,170.65 672.24,174.13 672.51,172.75 672.77,170.06"/><polyline clip-path="url(#c2)" fill="none" stroke="#1f77b4" stroke-width="1.5" stroke-linejoin="round" stroke-linecap="square" points="63.71,287.90 63.98,276.70 64.25,279.50 64.51,281.90 64.78,278.70 65.05,277.10 65.31,280.30 65.58,277.10 65.85,274.70 66.11,275.90 66.38,279.70 66.65,282.07 66.91,283.48 67.18,285.34 67.45,289.91 67.71,288.24 67.98,288.32 68.25,290.94 68.51,290.93 68.78,294.85 69.05,296.54 69.31,295.95 69.58,298.99 69.85,303.21 70.12,305.23 70.38,305.81 70.65,304.81 70.92,309.68 71.18,312.37 71.45,311.61 71.72,315.03 71.98,315.18 72.25,310.93 72.52,308.71 72.78,307.42 73.05,304.64 73.32,308.67 73.58,301.79 73.85,301.88 74.12,302.14 74.38,297.79 74.65,296.83 74.92,289.84 75.18,291.30 75.45,292.98 75.72,291.72 75.98,287.87 76.25,291.30 76.52,287.17 76.78,284.73 77.05,285.01 77.32,284.95 77.58,280.95 77.85,278.42 78.12,278.49 78.39,278.73 78.65,276.42 78.92,280.52 79.19,275.95 79.45,275.10 79.72,279.09 79.99,277.68 80.25,280.36 80.52,279.15 80.79,285.16 81.05,287.08 81.32,286.66 81.59,286.67 81.85,295.73 82.12,297.33 82.39,298.41 82.65,302.43 82.92,301.82 83.19,308.29 83.45,309.31 83.72,313.89 83.99,312.75 84.25,316.17 84.52,318.17 84.79,321.50 85.05,314.40 85.32,312.57 85.59,310.68 85.86,308.09 86.12,307.47 86.39,307.86 86.66,307.06 86.92,310.69 87.19,300.38 87.46,302.66 87.72,300.96 87.99,299.02 88.26,296.55 88.52,294.40 88.79,296.47 89.06,297.33 89.32,293.95 89.59,290.18 89.86,289.12 90.12,289.01 90.39,289.18 90.66,287.42 90.92,287.02 91.19,283.65 91.46,284.27 91.72,281.61 91.99,280.04 92.26,277.60 92.52,276.81 92.79,271.77 93.06,271.48 93.33,271.42 93.59,277.45 93.86,276.09 94.13,277.65 94.39,275.42 94.66,281.31 94.93,278.60 95.19,280.04 95.46,287.59 95.73,291.92 95.99,296.02 96.26,298.19 96.53,300.82 96.79,302.03 97.06,305.50 97.33,312.05 97.59,316.55 97.86,317.63 98.13,323.06 98.39,322.07 98.66,325.82 98.93,323.12 99.19,321.75 99.46,315.61 99.73,313.64 99.99,313.34 100.26,312.03 100.53,308.51 100.79,308.07 101.06,307.23 101.33,303.07 101.60,297.71 101.86,299.43 102.13,299.68 102.40,300.18 102.66,299.88 102.93,300.62 103.20,293.18 103.46,292.92 103.73,291.38 104.00,290.39 104.26,289.15 104.53,290.08 104.80,288.75 105.06,283.54 105.33,282.60 105.60,280.78 105.86,280.07 106.13,278.13 106.40,274.89 106.66,276.11 106.93,275.81 107.20,273.90 107.46,274.39 107.73,273.18 108.00,281.11 108.26,279.70 108.53,283.86 108.80,286.74 109.07,288.86 109.33,291.88 109.60,293.37 109.87,300.74 110.13,299.58 110.40,309.18 110.67,313.26 110.93,315.23 111.20,320.63 111.47,319.89 111.73,322.26 112.00,321.73 112.27,323.34 112.53,322.66 112.80,319.87 113.07,316.42 113.33,316.22 113.60,313.05 113.87,312.38 114.13,306.53 114.40,307.74 114.67,304.07 114.93,304.81 115.20,304.46 115.47,297.94 115.73,307.04 116.00,299.36 116.27,296.14 116.54,295.97 116.80,294.25 117.07,291.05 117.34,291.60 117.60,284.19 117.87,290.57 118.14,291.15 118.40,288.40 118.67,287.04 118.94,281.75 119.20,280.69 119.47,277.52 119.74,282.32 120.00,279.03 120.27,277.18 120.54,278.03 120.80,277.81 121.07,277.86 121.34,278.57 121.60,280.08 121.87,282.76 122.14,283.49 122.40,289.42 122.67,289.63 122.94,293.45 123.20,292.43 123.47,294.01 123.74,302.28 124.00,303.18 124.27,306.04 124.54,310.63 124.81,311.06 125.07,314.77 125.34,320.05 125.61,320.85 125.87,322.75 126.14,323.08 126.41,326.22 126.67,322.81 126.94,319.68 127.21,320.56 127.47,318.47 127.74,315.35 128.01,314.00 128.27,308.19 128.54,307.81 128.81,308.51 129.07,307.26 129.34,304.59 129.61,293.31 129.87,300.11 130.14,299.10 130.41,297.56 130.67,297.41 130.94,292.60 131.21,295.43 131.47,293.21 131.74,292.74 132.01,288.78 132.28,296.45 132.54,287.10 132.81,287.22 133.08,285.63 133.34,288.25 133.61,285.22 133.88,280.30 134.14,277.75 134.41,276.60 134.68,275.10 134.94,275.44 135.21,276.56 135.48,275.44 135.74,276.24 136.01,278.88 136.28,278.71 136.54,278.83 136.81,282.91 137.08,284.17 137.34,289.71 137.61,290.58 137.88,297.09 138.14,301.50 138.41,305.51 138.68,306.93 138.94,315.35 139.21,316.22 139.48,317.31 139.75,323.48 140.01,323.58 140.28,326.48 140.55,329.83 140.81,329.20 141.08,329.98 141.35,327.06 141.61,319.26 141.88,321.89 142.15,316.25 142.41,316.65 142.68,313.58 142.95,313.04 143.21,318.91 143.48,312.76 143.75,309.49 144.01,309.85 144.28,309.39 144.55,305.71 144.81,305.74 145.08,312.35 145.35,304.86 145.61,300.70 145.88,301.00 146.15,294.16 146.41,295.02 146.68,295.71 146.95,296.53 147.21,295.77 147.48,291.99 147.75,288.00 148.02,287.32 148.28,289.83 148.55,286.39 148.82,285.10 149.08,285.94 149.35,285.74 149.62,287.73 149.88,289.59 150.15,290.59 150.42,292.72 150.68,296.11 150.95,297.53 151.22,302.34 151.48,301.75 151.75,308.45 152.02,317.33 152.28,319.79 152.55,324.28 152.82,330.39 153.08,332.50 153.35,337.29 153.62,338.30 153.88,336.70 154.15,335.34 154.42,329.67 154.68,330.16 154.95,329.79 155.22,323.52 155.49,324.86 155.75,324.02 156.02,317.07 156.29,317.09 156.55,316.34 156.82,314.70 157.09,311.81 157.35,310.21 157.62,310.38 157.89,308.91 158.15,304.63 158.42,307.33 158.69,308.25 158.95,304.77 159.22,304.86 159.49,302.83 159.75,300.93 160.02,297.11 160.29,297.76 160.55,295.56 160.82,298.26 161.09,295.42 161.35,291.97 161.62,290.97 161.89,291.45 162.15,292.30 162.42,289.18 162.69,289.56 162.96,292.48 163.22,290.94 163.49,292.44 163.76,292.94 164.02,297.80 164.29,299.08 164.56,301.22 164.82,305.37 165.09,309.52 165.36,312.50 165.62,313.63 165.89,318.14 166.16,319.31 166.42,322.37 166.69,323.86 166.96,327.17 167.22,331.64 167.49,337.50 167.76,335.76 168.02,336.25 168.29,333.05 168.56,330.19 168.82,329.49 169.09,327.47 169.36,326.37 169.62,320.54 169.89,319.44 170.16,318.78 170.42,314.08 170.69,315.52 170.96,310.61 171.23,309.72 171.49,310.38 171.76,306.06 172.03,304.08 172.29,301.62 172.56,309.02 172.83,301.34 173.09,300.98 173.36,299.57 173.63,300.98 173.89,296.50 174.16,295.81 174.43,286.60 174.69,295.13 174.96,290.07 175.23,286.90 175.49,287.57 175.76,285.50 176.03,283.51 176.29,283.26 176.56,284.94 176.83,284.52 177.09,282.74 177.36,282.22 177.63,284.78 177.89,286.89 178.16,290.60 178.43,285.75 178.70,295.29 178.96,299.57 179.23,300.28 179.50,304.85 179.76,300.18 180.03,309.31 180.30,308.37 180.56,316.83 180.83,317.01 181.10,323.51 181.36,323.31 181.63,328.91 181.90,335.50 182.16,328.72 182.43,329.48 182.70,328.15 182.96,325.55 183.23,321.58 183.50,319.79 183.76,317.84 184.03,315.54 184.30,314.45 184.56,312.87 184.83,316.16 185.10,306.96 185.36,305.48 185.63,302.67 185.90,303.76 186.17,305.51 186.43,301.05 186.70,301.72 186.97,298.85 187.23,297.31 187.50,298.48 187.77,296.76 188.03,294.67 188.30,291.82 188.57,284.83 188.83,286.88 189.10,286.67 189.37,289.80 189.63,288.93 189.90,284.76 190.17,286.17 190.43,283.18 190.70,287.11 190.97,286.35 191.23,286.49 191.50,290.34 191.77,288.99 192.03,290.47 192.30,297.51 192.57,301.86 192.83,301.82 193.10,305.32 193.37,308.62 193.63,313.37 193.90,316.20 194.17,319.52 194.44,320.92 194.70,324.22 194.97,324.91 195.24,327.93 195.50,332.13 195.77,332.92 196.04,333.51 196.30,333.31 196.57,336.46 196.84,332.73 197.10,328.55 197.37,323.90 197.64,323.89 197.90,321.78 198.17,317.20 198.44,315.91 198.70,316.26 198.97,316.12 199.24,314.00 199.50,313.62 199.77,311.56 200.04,310.67 200.30,308.64 200.57,305.21 200.84,307.42 201.10,306.44 201.37,305.73 201.64,303.16 201.91,304.82 202.17,303.32 202.44,300.22 202.71,296.89 202.97,295.58 203.24,294.62 203.51,294.38 203.77,291.09 204.04,287.66 204.31,288.34 204.57,288.23 204.84,287.02 205.11,290.47 205.37,290.71 205.64,291.21 205.91,291.95 206.17,291.25 206.44,298.83 206.71,298.63 206.97,299.86 207.24,302.78 207.51,311.39 207.77,312.99 208.04,315.72 208.31,323.05 208.57,322.02 208.84,327.56 209.11,328.40 209.38,332.96 209.64,336.23 209.91,337.34 210.18,334.54 210.44,330.72 210.71,332.12 210.98,329.72 211.24,329.46 211.51,322.20 211.78,320.13 212.04,318.87 212.31,315.55 212.58,316.22 212.84,313.84 213.11,308.71 213.38,307.23 213.64,311.67 213.91,314.19 214.18,310.10 214.44,304.38 214.71,304.42 214.98,302.98 215.24,300.11 215.51,300.91 215.78,297.98 216.04,294.28 216.31,292.14 216.58,290.01 216.84,289.56 217.11,286.78 217.38,286.65 217.65,282.61 217.91,279.10 218.18,283.68 218.45,287.34 218.71,287.84 218.98,284.36 219.25,283.55 219.51,284.60 219.78,289.34 220.05,293.07 220.31,292.70 220.58,298.83 220.85,298.97 221.11,303.70 221.38,302.20 221.65,308.66 221.91,311.73 222.18,314.58 222.45,320.62 222.71,322.19 222.98,326.38 223.25,326.69 223.51,325.99 223.78,331.74 224.05,327.17 224.31,325.44 224.58,322.65 224.85,318.49 225.12,318.67 225.38,313.88 225.65,312.61 225.92,311.89 226.18,312.63 226.45,309.01 226.72,306.06 226.98,308.58 227.25,303.56 227.52,298.98 227.78,301.27 228.05,298.25 228.32,295.97 228.58,295.86 228.85,298.74 229.12,297.07 229.38,295.25 229.65,293.31 229.92,295.25 230.18,290.26 230.45,289.08 230.72,286.85 230.98,281.98 231.25,284.01 231.52,285.26 231.78,286.40 232.05,284.94 232.32,283.29 232.59,288.16 232.85,285.53 233.12,288.12 233.39,291.61 233.65,290.93 233.92,296.52 234.19,296.95 234.45,301.04 234.72,302.60 234.99,307.89 235.25,310.62 235.52,309.94 235.79,308.03 236.05,315.98 236.32,319.28 236.59,320.34 236.85,325.53 237.12,328.23 237.39,327.99 237.65,329.57 237.92,329.98 238.19,326.93 238.45,324.77 238.72,322.91 238.99,317.69 239.25,317.52 239.52,314.05 239.79,314.43 240.05,314.17 240.32,314.02 240.59,312.23 240.86,313.54 241.12,310.33 241.39,306.46 241.66,303.20 241.92,302.76 242.19,305.24 242.46,302.85 242.72,303.63 242.99,300.29 243.26,301.87 243.52,297.28 243.79,292.10 244.06,292.22 244.32,286.52 244.59,290.40 244.86,291.23 245.12,287.83 245.39,285.74 245.66,289.07 245.92,288.78 246.19,291.47 246.46,290.63 246.72,288.84 246.99,291.05 247.26,293.70 247.52,297.02 247.79,296.88 248.06,298.08 248.33,300.71 248.59,304.01 248.86,309.74 249.13,308.27 249.39,313.14 249.66,316.86 249.93,318.54 250.19,325.25 250.46,326.50 250.73,328.60 250.99,330.19 251.26,330.81 251.53,333.73 251.79,337.81 252.06,338.70 252.33,335.05 252.59,332.22 252.86,332.11 253.13,331.00 253.39,325.26 253.66,322.32 253.93,320.50 254.19,321.44 254.46,314.45 254.73,319.34 254.99,315.10 255.26,308.42 255.53,313.18 255.80,308.63 256.06,309.99 256.33,305.05 256.60,307.22 256.86,304.18 257.13,302.52 257.40,302.74 257.66,297.65 257.93,298.59 258.20,295.99 258.46,292.98 258.73,291.93 259.00,289.13 259.26,287.18 259.53,288.61 259.80,289.25 260.06,289.84 260.33,290.28 260.60,289.08 260.86,291.98 261.13,292.96 261.40,296.24 261.66,300.93 261.93,301.54 262.20,302.64 262.46,309.63 262.73,310.19 263.00,324.05 263.26,318.92 263.53,328.75 263.80,327.95 264.07,332.41 264.33,333.91 264.60,336.82 264.87,337.50 265.13,335.71 265.40,333.67 265.67,333.92 265.93,332.38 266.20,330.36 266.47,328.89 266.73,328.49 267.00,323.40 267.27,317.43 267.53,315.97 267.80,315.77 268.07,310.65 268.33,311.44 268.60,310.68 268.87,309.76 269.13,308.78 269.40,306.29 269.67,300.74 269.93,302.10 270.20,303.03 270.47,304.59 270.73,300.45 271.00,300.21 271.27,296.22 271.54,292.26 271.80,289.96 272.07,287.06 272.34,287.81 272.60,287.27 272.87,281.08 273.14,278.55 273.40,281.41 273.67,279.10 273.94,278.52 274.20,277.18 274.47,277.58 274.74,279.60 275.00,279.69 275.27,281.38 275.54,283.57 275.80,289.88 276.07,296.29 276.34,296.74 276.60,300.82 276.87,304.54 277.14,302.64 277.40,307.50 277.67,312.47 277.94,315.45 278.20,315.30 278.47,322.77 278.74,324.01 279.01,325.56 279.27,327.50 279.54,324.46 279.81,325.34 280.07,321.03 280.34,321.37 280.61,319.67 280.87,318.23 281.14,314.67 281.41,313.25 281.67,310.10 281.94,310.17 282.21,305.15 282.47,301.13 282.74,301.80 283.01,299.09 283.27,299.16 283.54,295.66 283.81,297.45 284.07,299.97 284.34,294.44 284.61,294.72 284.87,295.39 285.14,293.21 285.41,292.77 285.67,288.58 285.94,287.45 286.21,281.98 286.47,285.21 286.74,282.98 287.01,284.41 287.28,282.73 287.54,284.39 287.81,282.31 288.08,282.04 288.34,284.03 288.61,288.10 288.88,285.56 289.14,285.89 289.41,288.28 289.68,289.61 289.94,296.24 290.21,302.16 290.48,304.42 290.74,309.96 291.01,311.11 291.28,317.37 291.54,321.00 291.81,322.51 292.08,324.13 292.34,330.30 292.61,333.44 292.88,332.80 293.14,333.37 293.41,334.62 293.68,333.23 293.94,330.11 294.21,324.51 294.48,323.01 294.75,321.08 295.01,324.45 295.28,320.10 295.55,315.30 295.81,314.53 296.08,312.06 296.35,312.67 296.61,313.35 296.88,308.86 297.15,308.12 297.41,306.20 297.68,308.58 297.95,305.87 298.21,305.66 298.48,302.24 298.75,302.83 299.01,302.24 299.28,302.66 299.55,295.04 299.81,295.19 300.08,295.01 300.35,294.07 300.61,293.09 300.88,288.82 301.15,290.97 301.41,289.84 301.68,286.83 301.95,284.78 302.22,286.38 302.48,285.91 302.75,286.25 303.02,287.18 303.28,290.42 303.55,289.36 303.82,294.95 304.08,296.31 304.35,303.56 304.62,304.47 304.88,311.11 305.15,315.96 305.42,316.33 305.68,321.21 305.95,322.53 306.22,325.38 306.48,326.72 306.75,330.00 307.02,336.06 307.28,335.64 307.55,334.12 307.82,334.12 308.08,329.36 308.35,324.63 308.62,323.37 308.88,322.40 309.15,322.51 309.42,320.29 309.68,319.90 309.95,321.70 310.22,316.94 310.49,315.08 310.75,308.37 311.02,308.20 311.29,309.50 311.55,309.44 311.82,305.75 312.09,306.22 312.35,304.94 312.62,302.78 312.89,300.90 313.15,299.41 313.42,297.43 313.69,293.16 313.95,289.67 314.22,293.01 314.49,285.40 314.75,286.70 315.02,284.24 315.29,286.24 315.55,284.99 315.82,284.58 316.09,284.41 316.35,283.82 316.62,284.58 316.89,289.02 317.15,290.40 317.42,290.94 317.69,294.30 317.96,299.77 318.22,303.98 318.49,307.84 318.76,313.67 319.02,318.67 319.29,319.09 319.56,322.39 319.82,327.73 320.09,332.84 320.36,333.35 320.62,335.29 320.89,340.23 321.16,339.44 321.42,342.14 321.69,337.11 321.96,333.12 322.22,333.56 322.49,325.74 322.76,326.45 323.02,324.10 323.29,321.76 323.56,321.19 323.82,319.57 324.09,315.68 324.36,314.34 324.62,314.16 324.89,308.11 325.16,309.40 325.43,307.03 325.69,308.93 325.96,305.27 326.23,302.58 326.49,301.99 326.76,299.66 327.03,301.70 327.29,298.39 327.56,295.83 327.83,292.47 328.09,289.02 328.36,291.66 328.63,282.33 328.89,285.52 329.16,284.39 329.43,282.95 329.69,282.22 329.96,283.64 330.23,290.15 330.49,289.93 330.76,288.13 331.03,291.86 331.29,296.01 331.56,301.96 331.83,299.86 332.09,302.97 332.36,309.10 332.63,312.24 332.89,315.77 333.16,321.26 333.43,323.69 333.70,325.80 333.96,322.66 334.23,330.05 334.50,333.84 334.76,336.46 335.03,334.92 335.30,334.12 335.56,333.39 335.83,327.36 336.10,323.25 336.36,324.12 336.63,321.03 336.90,321.77 337.16,317.49 337.43,315.12 337.70,314.39 337.96,310.67 338.23,314.15 338.50,313.94 338.76,310.05 339.03,308.91 339.30,305.35 339.56,304.48 339.83,304.90 340.10,303.17 340.36,299.45 340.63,297.85 340.90,297.84 341.17,296.86 341.43,296.29 341.70,294.38 341.97,290.46 342.23,287.37 342.50,285.74 342.77,288.61 343.03,290.37 343.30,288.42 343.57,285.65 343.83,281.63 344.10,280.46 344.37,283.74 344.63,286.51 344.90,283.71 345.17,283.67 345.43,290.20 345.70,289.97 345.97,294.15 346.23,295.92 346.50,302.22 346.77,304.25 347.03,310.07 347.30,315.55 347.57,318.81 347.83,322.96 348.10,324.01 348.37,330.01 348.64,333.74 348.90,331.65 349.17,328.35 349.44,325.01 349.70,323.05 349.97,325.46 350.24,323.23 350.50,320.94 350.77,317.92 351.04,319.35 351.30,315.21 351.57,311.56 351.84,311.74 352.10,311.45 352.37,303.47 352.64,304.79 352.90,302.39 353.17,302.46 353.44,300.97 353.70,300.29 353.97,300.55 354.24,296.91 354.50,297.96 354.77,297.82 355.04,294.31 355.30,294.15 355.57,290.65 355.84,287.07 356.10,286.28 356.37,285.12 356.64,282.58 356.91,281.27 357.17,284.30 357.44,284.79 357.71,280.08 357.97,280.11 358.24,285.17 358.51,285.96 358.77,279.26 359.04,288.50 359.31,289.30 359.57,293.57 359.84,296.19 360.11,302.81 360.37,304.66 360.64,305.78 360.91,313.90 361.17,315.39 361.44,318.91 361.71,323.14 361.97,328.25 362.24,333.05 362.51,334.62 362.77,330.80 363.04,327.26 363.31,324.15 363.57,322.06 363.84,319.93 364.11,320.27 364.38,320.29 364.64,316.36 364.91,313.22 365.18,311.76 365.44,313.09 365.71,310.59 365.98,310.40 366.24,306.35 366.51,306.61 366.78,304.42 367.04,302.18 367.31,301.10 367.58,297.82 367.84,300.26 368.11,302.01 368.38,296.14 368.64,292.69 368.91,290.17 369.18,292.27 369.44,287.91 369.71,286.59 369.98,287.31 370.24,285.62 370.51,282.37 370.78,282.43 371.04,277.81 371.31,282.37 371.58,277.63 371.85,275.50 372.11,281.53 372.38,284.04 372.65,286.97 372.91,288.19 373.18,287.59 373.45,292.04 373.71,295.83 373.98,301.66 374.25,303.96 374.51,308.86 374.78,315.04 375.05,318.65 375.31,321.09 375.58,322.69 375.85,327.89 376.11,329.00 376.38,327.53 376.65,329.18 376.91,328.68 377.18,322.86 377.45,320.31 377.71,317.31 377.98,316.33 378.25,315.03 378.51,311.58 378.78,310.71 379.05,307.29 379.31,308.50 379.58,307.01 379.85,303.85 380.12,303.29 380.38,300.27 380.65,299.88 380.92,299.84 381.18,297.47 381.45,297.10 381.72,297.84 381.98,296.36 382.25,293.70 382.52,290.67 382.78,287.17 383.05,279.36 383.32,281.43 383.58,277.95 383.85,276.87 384.12,278.52 384.38,278.18 384.65,275.50 384.92,277.34 385.18,278.43 385.45,277.04 385.72,280.10 385.98,280.93 386.25,283.58 386.52,286.61 386.78,293.42 387.05,294.46 387.32,298.98 387.59,301.25 387.85,308.74 388.12,310.07 388.39,311.50 388.65,315.67 388.92,320.90 389.19,322.91 389.45,328.49 389.72,330.89 389.99,333.95 390.25,334.62 390.52,332.63 390.79,332.69 391.05,327.56 391.32,328.75 391.59,325.98 391.85,322.28 392.12,317.45 392.39,320.75 392.65,318.64 392.92,311.33 393.19,311.28 393.45,311.26 393.72,309.92 393.99,307.21 394.25,305.57 394.52,302.95 394.79,305.72 395.06,293.79 395.32,299.11 395.59,299.02 395.86,296.16 396.12,294.63 396.39,287.35 396.66,287.29 396.92,287.87 397.19,287.08 397.46,283.35 397.72,284.66 397.99,282.06 398.26,283.49 398.52,276.14 398.79,281.82 399.06,283.18 399.32,277.64 399.59,289.07 399.86,290.01 400.12,289.44 400.39,292.99 400.66,296.44 400.92,299.11 401.19,304.13 401.46,307.54 401.72,313.25 401.99,318.46 402.26,317.08 402.52,322.90 402.79,326.49 403.06,326.13 403.33,328.90 403.59,334.81 403.86,336.97 404.13,337.63 404.39,337.74 404.66,332.80 404.93,330.13 405.19,327.47 405.46,331.63 405.73,321.01 405.99,316.54 406.26,314.07 406.53,317.32 406.79,312.24 407.06,313.03 407.33,312.49 407.59,307.23 407.86,306.82 408.13,305.27 408.39,298.36 408.66,302.62 408.93,302.50 409.19,299.39 409.46,295.79 409.73,294.90 409.99,297.26 410.26,295.35 410.53,286.36 410.80,285.82 411.06,280.18 411.33,281.85 411.60,278.96 411.86,280.02 412.13,276.56 412.40,276.29 412.66,278.06 412.93,276.76 413.20,275.10 413.46,277.45 413.73,275.56 414.00,275.55 414.26,276.69 414.53,278.61 414.80,283.56 415.06,284.45 415.33,288.29 415.60,294.64 415.86,297.51 416.13,298.93 416.40,304.66 416.66,310.01 416.93,307.84 417.20,310.47 417.46,319.11 417.73,324.39 418.00,326.70 418.27,324.16 418.53,325.57 418.80,323.00 419.07,323.11 419.33,318.99 419.60,314.65 419.87,314.49 420.13,310.29 420.40,309.56 420.67,306.26 420.93,303.71 421.20,301.59 421.47,302.73 421.73,299.82 422.00,297.04 422.27,298.72 422.53,295.84 422.80,293.58 423.07,291.17 423.33,291.33 423.60,290.66 423.87,288.92 424.13,288.96 424.40,286.65 424.67,283.12 424.93,280.69 425.20,280.69 425.47,277.93 425.73,279.56 426.00,273.97 426.27,273.69 426.54,275.25 426.80,273.85 427.07,272.35 427.34,271.41 427.60,271.02 427.87,276.67 428.14,276.49 428.40,281.08 428.67,287.15 428.94,290.08 429.20,291.85 429.47,301.26 429.74,307.24 430.00,311.04 430.27,315.72 430.54,320.65 430.80,326.71 431.07,330.54 431.34,330.49 431.60,328.63 431.87,327.78 432.14,323.22 432.40,322.59 432.67,322.52 432.94,317.86 433.20,315.10 433.47,313.69 433.74,309.72 434.01,314.62 434.27,307.67 434.54,301.46 434.81,302.27 435.07,301.23 435.34,298.77 435.61,298.95 435.87,298.19 436.14,296.34 436.41,296.20 436.67,292.16 436.94,294.78 437.21,294.25 437.47,290.28 437.74,289.02 438.01,289.61 438.27,289.37 438.54,284.98 438.81,282.46 439.07,281.53 439.34,278.99 439.61,276.04 439.87,273.67 440.14,271.93 440.41,270.36 440.67,271.36 440.94,272.51 441.21,272.37 441.48,269.74 441.74,272.71 442.01,275.03 442.28,278.06 442.54,281.72 442.81,285.99 443.08,290.27 443.34,295.13 443.61,300.97 443.88,306.05 444.14,308.59 444.41,311.71 444.68,315.10 444.94,318.79 445.21,327.77 445.48,327.10 445.74,328.04 446.01,330.54 446.28,324.95 446.54,321.84 446.81,317.18 447.08,318.97 447.34,318.20 447.61,312.72 447.88,313.97 448.14,310.92 448.41,309.49 448.68,307.64 448.95,307.38 449.21,303.10 449.48,298.99 449.75,297.89 450.01,296.74 450.28,296.98 450.55,292.90 450.81,292.27 451.08,290.16 451.35,293.10 451.61,289.30 451.88,288.96 452.15,284.60 452.41,281.91 452.68,281.94 452.95,278.94 453.21,275.34 453.48,274.44 453.75,274.06 454.01,276.26 454.28,274.42 454.55,277.64 454.81,276.31 455.08,274.51 455.35,276.73 455.61,279.30 455.88,284.10 456.15,284.14 456.41,287.68 456.68,293.74 456.95,297.33 457.22,298.26 457.48,301.83 457.75,300.72 458.02,305.51 458.28,311.12 458.55,313.97 458.82,313.13 459.08,319.35 459.35,320.22 459.62,323.08 459.88,323.50 460.15,325.67 460.42,328.70 460.68,325.78 460.95,323.80 461.22,319.89 461.48,318.80 461.75,313.33 462.02,313.82 462.28,311.47 462.55,311.14 462.82,308.28 463.08,306.98 463.35,304.48 463.62,301.39 463.88,301.84 464.15,301.90 464.42,297.71 464.69,298.12 464.95,298.14 465.22,290.64 465.49,292.42 465.75,297.00 466.02,293.46 466.29,288.89 466.55,285.77 466.82,285.64 467.09,280.40 467.35,281.74 467.62,280.41 467.89,284.37 468.15,277.37 468.42,275.64 468.69,271.74 468.95,275.81 469.22,274.39 469.49,278.05 469.75,279.59 470.02,277.95 470.29,284.55 470.55,283.95 470.82,293.00 471.09,292.92 471.35,300.45 471.62,299.08 471.89,303.28 472.16,306.34 472.42,308.92 472.69,310.12 472.96,314.70 473.22,317.27 473.49,319.17 473.76,323.60 474.02,325.82 474.29,319.87 474.56,315.12 474.82,314.69 475.09,312.41 475.36,312.53 475.62,311.90 475.89,307.27 476.16,307.57 476.42,302.07 476.69,299.74 476.96,299.36 477.22,294.49 477.49,289.74 477.76,294.23 478.02,291.89 478.29,294.12 478.56,293.28 478.82,290.58 479.09,287.04 479.36,288.52 479.62,286.11 479.89,282.58 480.16,286.01 480.43,282.68 480.69,277.35 480.96,276.13 481.23,274.54 481.49,272.57 481.76,273.85 482.03,269.92 482.29,268.04 482.56,267.18 482.83,264.54 483.09,270.40 483.36,272.22 483.63,273.62 483.89,275.81 484.16,279.60 484.43,277.01 484.69,278.46 484.96,284.84 485.23,286.47 485.49,293.18 485.76,296.03 486.03,300.55 486.29,305.50 486.56,306.21 486.83,308.54 487.09,312.28 487.36,315.80 487.63,318.70 487.90,318.64 488.16,318.23 488.43,314.16 488.70,313.57 488.96,308.97 489.23,305.37 489.50,301.33 489.76,298.75 490.03,292.77 490.30,297.71 490.56,298.41 490.83,294.08 491.10,288.95 491.36,286.21 491.63,291.95 491.90,289.67 492.16,287.42 492.43,286.85 492.70,283.48 492.96,279.70 493.23,281.05 493.50,278.01 493.76,278.12 494.03,273.19 494.30,272.81 494.56,268.13 494.83,269.46 495.10,267.51 495.37,264.97 495.63,265.42 495.90,264.07 496.17,266.89 496.43,269.55 496.70,266.44 496.97,263.90 497.23,269.06 497.50,271.30 497.77,276.76 498.03,280.46 498.30,281.21 498.57,285.60 498.83,287.93 499.10,292.32 499.37,293.60 499.63,295.97 499.90,304.53 500.17,304.47 500.43,309.11 500.70,313.08 500.97,316.83 501.23,317.24 501.50,321.26 501.77,321.19 502.03,318.86 502.30,314.59 502.57,310.48 502.83,309.21 503.10,306.29 503.37,305.97 503.64,306.39 503.90,301.68 504.17,298.89 504.44,296.67 504.70,292.92 504.97,293.31 505.24,292.68 505.50,295.51 505.77,290.97 506.04,289.33 506.30,286.00 506.57,286.42 506.84,287.11 507.10,288.05 507.37,279.67 507.64,278.41 507.90,276.14 508.17,274.22 508.44,276.73 508.70,271.42 508.97,266.70 509.24,268.52 509.50,267.00 509.77,268.21 510.04,268.58 510.30,274.77 510.57,273.18 510.84,267.89 511.11,267.97 511.37,272.90 511.64,275.70 511.91,278.37 512.17,284.63 512.44,284.27 512.71,292.03 512.97,296.72 513.24,304.62 513.51,302.51 513.77,306.92 514.04,308.01 514.31,315.51 514.57,317.96 514.84,320.98 515.11,322.14 515.37,319.07 515.64,314.92 515.91,317.49 516.17,310.93 516.44,309.89 516.71,306.14 516.97,304.66 517.24,302.44 517.51,302.89 517.77,300.28 518.04,297.05 518.31,292.31 518.58,294.08 518.84,291.34 519.11,288.30 519.38,290.44 519.64,288.04 519.91,289.18 520.18,286.67 520.44,286.18 520.71,284.07 520.98,281.64 521.24,279.47 521.51,276.98 521.78,278.24 522.04,269.81 522.31,268.79 522.58,268.29 522.84,266.54 523.11,263.32 523.38,257.58 523.64,262.45 523.91,262.02 524.18,259.86 524.44,261.62 524.71,260.87 524.98,261.41 525.24,266.22 525.51,268.60 525.78,268.77 526.04,275.56 526.31,277.97 526.58,281.96 526.85,286.58 527.11,290.83 527.38,291.65 527.65,298.88 527.91,303.93 528.18,307.26 528.45,311.34 528.71,317.16 528.98,323.10 529.25,327.91 529.51,326.74 529.78,327.08 530.05,328.30 530.31,325.34 530.58,318.50 530.85,316.25 531.11,317.54 531.38,314.76 531.65,310.13 531.91,309.84 532.18,307.66 532.45,306.13 532.71,305.77 532.98,302.02 533.25,299.19 533.51,300.49 533.78,297.50 534.05,294.02 534.32,293.75 534.58,291.52 534.85,292.98 535.12,288.36 535.38,289.95 535.65,284.75 535.92,285.66 536.18,284.72 536.45,283.13 536.72,280.19 536.98,278.10 537.25,282.09 537.52,273.65 537.78,274.45 538.05,270.53 538.32,274.33 538.58,269.50 538.85,273.20 539.12,275.18 539.38,277.73 539.65,277.46 539.92,284.22 540.18,289.63 540.45,289.91 540.72,288.30 540.98,296.25 541.25,308.43 541.52,312.58 541.79,315.61 542.05,321.04 542.32,328.96 542.59,331.76 542.85,335.50 543.12,335.30 543.39,326.93 543.65,325.38 543.92,327.05 544.19,325.97 544.45,320.78 544.72,319.64 544.99,315.75 545.25,315.28 545.52,312.98 545.79,310.48 546.05,312.41 546.32,311.34 546.59,309.07 546.85,306.75 547.12,304.51 547.39,302.85 547.65,301.63 547.92,299.48 548.19,300.36 548.45,295.70 548.72,292.34 548.99,296.82 549.25,292.66 549.52,288.99 549.79,287.46 550.06,286.34 550.32,285.16 550.59,285.08 550.86,284.98 551.12,280.85 551.39,278.22 551.66,281.32 551.92,280.30 552.19,279.27 552.46,281.00 552.72,282.69 552.99,284.30 553.26,289.25 553.52,289.78 553.79,293.62 554.06,293.46 554.32,298.42 554.59,305.50 554.86,310.27 555.12,311.90 555.39,315.81 555.66,322.31 555.92,326.24 556.19,334.38 556.46,335.33 556.72,338.86 556.99,341.18 557.26,335.48 557.53,337.79 557.79,333.46 558.06,329.25 558.33,326.07 558.59,321.23 558.86,323.45 559.13,316.77 559.39,317.31 559.66,314.84 559.93,313.65 560.19,312.58 560.46,307.65 560.73,308.94 560.99,307.70 561.26,302.90 561.53,301.02 561.79,299.79 562.06,301.62 562.33,301.08 562.59,299.93 562.86,298.93 563.13,295.51 563.39,291.58 563.66,288.02 563.93,287.48 564.19,286.03 564.46,285.43 564.73,280.01 565.00,283.18 565.26,280.12 565.53,281.96 565.80,281.58 566.06,282.91 566.33,279.56 566.60,281.52 566.86,278.78 567.13,281.88 567.40,291.25 567.66,292.51 567.93,295.55 568.20,300.60 568.46,308.15 568.73,307.19 569.00,311.32 569.26,315.73 569.53,321.40 569.80,323.40 570.06,328.65 570.33,331.70 570.60,335.09 570.86,333.96 571.13,337.50 571.40,335.11 571.66,329.84 571.93,327.80 572.20,325.62 572.46,323.64 572.73,319.17 573.00,319.99 573.27,315.00 573.53,309.76 573.80,309.68 574.07,310.35 574.33,309.88 574.60,306.47 574.87,307.03 575.13,306.94 575.40,304.55 575.67,303.35 575.93,298.40 576.20,299.92 576.47,293.94 576.73,294.67 577.00,291.40 577.27,287.64 577.53,285.50 577.80,282.60 578.07,283.86 578.33,286.31 578.60,281.57 578.87,282.98 579.13,281.20 579.40,277.98 579.67,279.78 579.93,284.99 580.20,284.48 580.47,285.36 580.74,287.05 581.00,292.98 581.27,293.98 581.54,299.22 581.80,301.69 582.07,305.75 582.34,307.38 582.60,310.89 582.87,316.21 583.14,320.51 583.40,323.23 583.67,324.84 583.94,328.32 584.20,333.13 584.47,334.62 584.74,333.75 585.00,334.25 585.27,331.94 585.54,331.33 585.80,325.46 586.07,325.30 586.34,323.10 586.60,322.16 586.87,319.01 587.14,315.02 587.40,311.00 587.67,310.08 587.94,312.03 588.21,300.41 588.47,303.82 588.74,305.20 589.01,303.93 589.27,308.39 589.54,301.41 589.81,301.05 590.07,300.13 590.34,297.75 590.61,298.48 590.87,298.47 591.14,294.30 591.41,291.61 591.67,290.78 591.94,288.31 592.21,288.27 592.47,287.72 592.74,282.54 593.01,279.34 593.27,279.44 593.54,279.51 593.81,280.66 594.07,280.31 594.34,282.38 594.61,278.78 594.87,283.17 595.14,286.19 595.41,287.15 595.67,293.41 595.94,291.98 596.21,298.18 596.48,303.55 596.74,306.46 597.01,311.94 597.28,314.78 597.54,320.03 597.81,321.32 598.08,325.09 598.34,331.22 598.61,330.84 598.88,332.60 599.14,335.82 599.41,331.77 599.68,328.90 599.94,323.98 600.21,325.76 600.48,321.93 600.74,321.09 601.01,318.21 601.28,317.52 601.54,315.80 601.81,313.29 602.08,314.43 602.34,315.31 602.61,310.92 602.88,310.27 603.14,307.84 603.41,313.90 603.68,305.72 603.95,302.39 604.21,302.73 604.48,302.27 604.75,299.30 605.01,297.72 605.28,296.95 605.55,294.96 605.81,294.53 606.08,292.99 606.35,290.62 606.61,287.83 606.88,288.41 607.15,286.38 607.41,283.62 607.68,282.22 607.95,286.11 608.21,286.00 608.48,287.66 608.75,289.40 609.01,291.15 609.28,292.50 609.55,297.74 609.81,302.20 610.08,306.74 610.35,309.92 610.61,313.12 610.88,315.46 611.15,320.33 611.42,323.73 611.68,325.78 611.95,332.90 612.22,336.21 612.48,338.13 612.75,340.52 613.02,343.74 613.28,340.27 613.55,338.52 613.82,337.72 614.08,330.46 614.35,331.98 614.62,328.56 614.88,326.99 615.15,323.43 615.42,319.85 615.68,319.71 615.95,317.17 616.22,315.12 616.48,314.70 616.75,309.41 617.02,308.84 617.28,304.46 617.55,306.33 617.82,306.87 618.08,308.21 618.35,303.91 618.62,299.64 618.88,304.01 619.15,303.56 619.42,298.26 619.69,297.70 619.95,292.67 620.22,292.46 620.49,286.24 620.75,284.44 621.02,281.31 621.29,280.04 621.55,279.06 621.82,279.81 622.09,278.83 622.35,275.10 622.62,282.65 622.89,285.60 623.15,287.90 623.42,287.02 623.69,294.56 623.95,294.63 624.22,298.62 624.49,299.77 624.75,303.66 625.02,309.06 625.29,311.90 625.55,319.08 625.82,318.96 626.09,320.85 626.35,327.74 626.62,325.80 626.89,327.63 627.16,325.36 627.42,325.29 627.69,319.76 627.96,316.20 628.22,314.53 628.49,314.01 628.76,309.04 629.02,305.03 629.29,304.09 629.56,301.39 629.82,302.02 630.09,299.75 630.36,297.95 630.62,296.94 630.89,291.05 631.16,292.50 631.42,293.56 631.69,290.36 631.96,291.72 632.22,291.23 632.49,284.14 632.76,283.50 633.02,281.25 633.29,280.77 633.56,277.75 633.82,277.23 634.09,272.86 634.36,273.21 634.63,274.70 634.89,278.04 635.16,274.46 635.43,277.04 635.69,277.93 635.96,280.82 636.23,284.36 636.49,289.22 636.76,289.10 637.03,294.56 637.29,301.90 637.56,305.58 637.83,312.88 638.09,312.17 638.36,314.59 638.63,315.99 638.89,318.28 639.16,326.52 639.43,329.31 639.69,331.54 639.96,332.85 640.23,336.46 640.49,333.55 640.76,331.22 641.03,327.32 641.29,326.92 641.56,325.61 641.83,324.24 642.09,322.10 642.36,320.65 642.63,318.00 642.90,314.68 643.16,312.59 643.43,309.28 643.70,307.51 643.96,307.09 644.23,309.39 644.50,303.85 644.76,303.57 645.03,306.24 645.30,305.77 645.56,304.43 645.83,303.27 646.10,300.58 646.36,299.19 646.63,294.94 646.90,294.98 647.16,291.57 647.43,290.42 647.70,290.07 647.96,285.54 648.23,285.62 648.50,284.64 648.76,286.25 649.03,284.22 649.30,284.47 649.56,286.65 649.83,290.57 650.10,288.42 650.37,289.01 650.63,291.82 650.90,294.54 651.17,297.41 651.43,299.99 651.70,306.59 651.97,306.64 652.23,308.57 652.50,312.82 652.77,318.42 653.03,314.08 653.30,318.35 653.57,322.76 653.83,326.20 654.10,332.81 654.37,334.44 654.63,333.17 654.90,330.70 655.17,335.26 655.43,332.07 655.70,324.93 655.97,323.40 656.23,321.87 656.50,320.51 656.77,318.63 657.03,317.30 657.30,313.93 657.57,311.70 657.84,312.24 658.10,308.11 658.37,311.21 658.64,307.62 658.90,301.89 659.17,305.16 659.44,303.37 659.70,304.89 659.97,305.20 660.24,302.61 660.50,299.46 660.77,297.38 661.04,292.83 661.30,291.58 661.57,288.58 661.84,290.18 662.10,290.04 662.37,286.16 662.64,283.99 662.90,286.49 663.17,286.70 663.44,283.82 663.70,284.95 663.97,286.59 664.24,289.56 664.50,290.69 664.77,291.15 665.04,293.37 665.30,298.38 665.57,300.39 665.84,303.35 666.11,308.97 666.37,312.30 666.64,313.46 666.91,317.23 667.17,324.51 667.44,327.23 667.71,327.56 667.97,330.92 668.24,334.40 668.51,333.12 668.77,340.46 669.04,332.70 669.31,334.75 669.57,327.77 669.84,327.28 670.11,325.30 670.37,324.50 670.64,322.17 670.91,319.04 671.17,318.83 671.44,315.19 671.71,315.51 671.97,310.83 672.24,315.33 672.51,313.65 672.77,310.31"/><rect x="33.5" y="23.5" width="670.0" height="96.0" fill="none" stroke="#000" stroke-width="0.8"/><rect x="33.5" y="138.5" width="670.0" height="96.0" fill="none" stroke="#000" stroke-width="0.8"/><rect x="33.5" y="253.5" width="670.0" height="96.0" fill="none" stroke="#000" stroke-width="0.8"/><path d="M46.5 119.5v2.5M60.5 119.5v2.5M74.5 119.5v2.5M88.5 119.5v4.5M102.5 119.5v2.5M116.5 119.5v2.5M130.5 119.5v2.5M143.5 119.5v2.5M157.5 119.5v4.5M171.5 119.5v2.5M185.5 119.5v2.5M199.5 119.5v2.5M213.5 119.5v2.5M227.5 119.5v4.5M241.5 119.5v2.5M255.5 119.5v2.5M269.5 119.5v2.5M283.5 119.5v2.5M297.5 119.5v4.5M310.5 119.5v2.5M324.5 119.5v2.5M338.5 119.5v2.5M352.5 119.5v2.5M366.5 119.5v4.5M380.5 119.5v2.5M394.5 119.5v2.5M408.5 119.5v2.5M422.5 119.5v2.5M436.5 119.5v4.5M450.5 119.5v2.5M464.5 119.5v2.5M478.5 119.5v2.5M491.5 119.5v2.5M505.5 119.5v4.5M519.5 119.5v2.5M533.5 119.5v2.5M547.5 119.5v2.5M561.5 119.5v2.5M575.5 119.5v4.5M589.5 119.5v2.5M603.5 119.5v2.5M617.5 119.5v2.5M631.5 119.5v2.5M645.5 119.5v4.5M658.5 119.5v2.5M672.5 119.5v2.5M686.5 119.5v2.5M700.5 119.5v2.5M33.5 119.5v4.5M703.5 119.5v4.5M46.5 234.5v2.5M60.5 234.5v2.5M74.5 234.5v2.5M88.5 234.5v4.5M102.5 234.5v2.5M116.5 234.5v2.5M130.5 234.5v2.5M143.5 234.5v2.5M157.5 234.5v4.5M171.5 234.5v2.5M185.5 234.5v2.5M199.5 234.5v2.5M213.5 234.5v2.5M227.5 234.5v4.5M241.5 234.5v2.5M255.5 234.5v2.5M269.5 234.5v2.5M283.5 234.5v2.5M297.5 234.5v4.5M310.5 234.5v2.5M324.5 234.5v2.5M338.5 234.5v2.5M352.5 234.5v2.5M366.5 234.5v4.5M380.5 234.5v2.5M394.5 234.5v2.5M408.5 234.5v2.5M422.5 234.5v2.5M436.5 234.5v4.5M450.5 234.5v2.5M464.5 234.5v2.5M478.5 234.5v2.5M491.5 234.5v2.5M505.5 234.5v4.5M519.5 234.5v2.5M533.5 234.5v2.5M547.5 234.5v2.5M561.5 234.5v2.5M575.5 234.5v4.5M589.5 234.5v2.5M603.5 234.5v2.5M617.5 234.5v2.5M631.5 234.5v2.5M645.5 234.5v4.5M658.5 234.5v2.5M672.5 234.5v2.5M686.5 234.5v2.5M700.5 234.5v2.5M33.5 234.5v4.5M703.5 234.5v4.5M46.5 349.5v2.5M60.5 349.5v2.5M74.5 349.5v2.5M88.5 349.5v4.5M102.5 349.5v2.5M116.5 349.5v2.5M130.5 349.5v2.5M143.5 349.5v2.5M157.5 349.5v4.5M171.5 349.5v2.5M185.5 349.5v2.5M199.5 349.5v2.5M213.5 349.5v2.5M227.5 349.5v4.5M241.5 349.5v2.5M255.5 349.5v2.5M269.5 349.5v2.5M283.5 349.5v2.5M297.5 349.5v4.5M310.5 349.5v2.5M324.5 349.5v2.5M338.5 349.5v2.5M352.5 349.5v2.5M366.5 349.5v4.5M380.5 349.5v2.5M394.5 349.5v2.5M408.5 349.5v2.5M422.5 349.5v2.5M436.5 349.5v4.5M450.5 349.5v2.5M464.5 349.5v2.5M478.5 349.5v2.5M491.5 349.5v2.5M505.5 349.5v4.5M519.5 349.5v2.5M533.5 349.5v2.5M547.5 349.5v2.5M561.5 349.5v2.5M575.5 349.5v4.5M589.5 349.5v2.5M603.5 349.5v2.5M617.5 349.5v2.5M631.5 349.5v2.5M645.5 349.5v4.5M658.5 349.5v2.5M672.5 349.5v2.5M686.5 349.5v2.5M700.5 349.5v2.5M33.5 349.5v4.5M703.5 349.5v4.5M30.0 47.5h3.5M30.0 76.5h3.5M30.0 104.5h3.5M30.0 156.5h3.5M30.0 187.5h3.5M30.0 219.5h3.5M30.0 263.5h3.5M30.0 303.5h3.5M30.0 343.5h3.5" stroke="#000" stroke-width="0.8" fill="none"/><rect x="38.5" y="28.5" width="54" height="17.7" rx="2" ry="2" fill="#fff" fill-opacity="0.8" stroke="#ccc" stroke-width="1"/><path d="M41.4 36.0h21.5" stroke="#1f77b4" stroke-width="1.5" stroke-linecap="butt"/><text x="70.7" y="39.9" font-size="10" textLength="16.3" lengthAdjust="spacingAndGlyphs">co2</text><rect x="38.5" y="211.6" width="54" height="17.7" rx="2" ry="2" fill="#fff" fill-opacity="0.8" stroke="#ccc" stroke-width="1"/><path d="M41.4 219.1h21.5" stroke="#1f77b4" stroke-width="1.5" stroke-linecap="butt"/><text x="70.7" y="223.0" font-size="10" textLength="16.3" lengthAdjust="spacingAndGlyphs">co2</text><rect x="644.5" y="258.5" width="54" height="17.7" rx="2" ry="2" fill="#fff" fill-opacity="0.8" stroke="#ccc" stroke-width="1"/><path d="M647.4 266.0h21.5" stroke="#1f77b4" stroke-width="1.5" stroke-linecap="butt"/><text x="676.7" y="269.9" font-size="10" textLength="16.3" lengthAdjust="spacingAndGlyphs">co2</text><g fill="#000"><text x="261.8" y="16.9" font-size="12" text-anchor="start" textLength="213" lengthAdjust="spacingAndGlyphs">CO2 concentration [ppmv], original</text><text x="312.5" y="131.6" font-size="12" text-anchor="start" textLength="110.5" lengthAdjust="spacingAndGlyphs">Detrended (linear)</text><text x="301.2" y="246.6" font-size="12" text-anchor="start" textLength="134" lengthAdjust="spacingAndGlyphs">Detrended (quadratic)</text><text x="356.0" y="377.9" font-size="10" text-anchor="start" textLength="23.5" lengthAdjust="spacingAndGlyphs">Date</text><text x="75.3" y="363.7" font-size="10" text-anchor="start" textLength="24" lengthAdjust="spacingAndGlyphs">1960</text><text x="145.3" y="363.7" font-size="10" text-anchor="start" textLength="24" lengthAdjust="spacingAndGlyphs">1965</text><text x="215.3" y="363.7" font-size="10" text-anchor="start" textLength="24" lengthAdjust="spacingAndGlyphs">1970</text><text x="284.3" y="363.7" font-size="10" text-anchor="start" textLength="24" lengthAdjust="spacingAndGlyphs">1975</text><text x="354.3" y="363.7" font-size="10" text-anchor="start" textLength="24" lengthAdjust="spacingAndGlyphs">1980</text><text x="423.3" y="363.7" font-size="10" text-anchor="start" textLength="24" lengthAdjust="spacingAndGlyphs">1985</text><text x="493.3" y="363.7" font-size="10" text-anchor="start" textLength="24" lengthAdjust="spacingAndGlyphs">1990</text><text x="562.3" y="363.7" font-size="10" text-anchor="start" textLength="24" lengthAdjust="spacingAndGlyphs">1995</text><text x="633.3" y="363.7" font-size="10" text-anchor="start" textLength="24" lengthAdjust="spacingAndGlyphs">2000</text><text x="8.2" y="50.8" font-size="10" text-anchor="start" textLength="17.5" lengthAdjust="spacingAndGlyphs">360</text><text x="8.2" y="79.8" font-size="10" text-anchor="start" textLength="17.5" lengthAdjust="spacingAndGlyphs">340</text><text x="8.2" y="108.7" font-size="10" text-anchor="start" textLength="17.5" lengthAdjust="spacingAndGlyphs">320</text><text x="20.8" y="160.8" font-size="10" text-anchor="start" textLength="6.6" lengthAdjust="spacingAndGlyphs">5</text><text x="19.9" y="191.7" font-size="10" text-anchor="start" textLength="6.4" lengthAdjust="spacingAndGlyphs">0</text><text x="11.2" y="222.7" font-size="10" text-anchor="start" textLength="13.6" lengthAdjust="spacingAndGlyphs">−5</text><text x="20.8" y="266.8" font-size="10" text-anchor="start" textLength="6.6" lengthAdjust="spacingAndGlyphs">5</text><text x="19.9" y="306.7" font-size="10" text-anchor="start" textLength="6.4" lengthAdjust="spacingAndGlyphs">0</text><text x="11.2" y="347.7" font-size="10" text-anchor="start" textLength="13.6" lengthAdjust="spacingAndGlyphs">−5</text></g>
</svg></body></html>
